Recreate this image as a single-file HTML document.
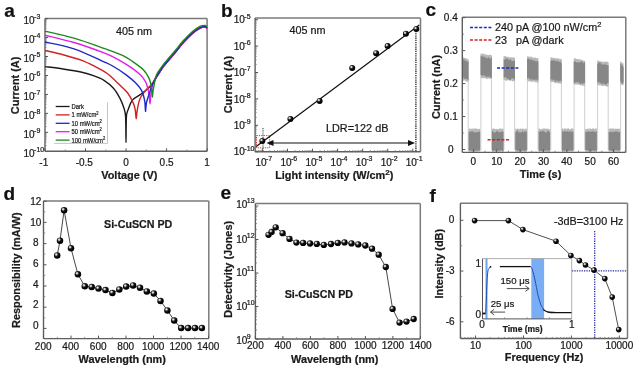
<!DOCTYPE html>
<html><head><meta charset="utf-8"><style>
html,body{margin:0;padding:0;background:#fff;}
svg{display:block;font-family:"Liberation Sans", sans-serif;will-change:transform;}
text{stroke:#1a1a1a;stroke-width:0.22px;}
</style></head><body>
<svg width="637" height="369" viewBox="0 0 637 369">
<defs>
<radialGradient id="ball" cx="0.36" cy="0.34" r="0.62">
<stop offset="0" stop-color="#f4f4f4"/>
<stop offset="0.18" stop-color="#c8c8c8"/>
<stop offset="0.42" stop-color="#262626"/>
<stop offset="0.7" stop-color="#050505"/>
<stop offset="1" stop-color="#000"/>
</radialGradient>
</defs>
<rect width="637" height="369" fill="#fff"/>
<text x="4.30" y="17.20" font-size="19" text-anchor="start" font-weight="bold" fill="#111" >a</text>
<line x1="45.00" y1="18.60" x2="207.10" y2="18.60" stroke="#7a7a7a" stroke-width="1.5" />
<line x1="207.10" y1="18.60" x2="207.10" y2="151.30" stroke="#7a7a7a" stroke-width="1.5" />
<line x1="45.00" y1="151.30" x2="207.10" y2="151.30" stroke="#5e5e5e" stroke-width="1.4" />
<line x1="45.00" y1="18.60" x2="45.00" y2="151.30" stroke="#5e5e5e" stroke-width="1.4" />
<line x1="45.00" y1="18.60" x2="48.00" y2="18.60" stroke="#555" stroke-width="1" />
<line x1="45.00" y1="31.85" x2="46.60" y2="31.85" stroke="#777" stroke-width="0.8" />
<line x1="45.00" y1="28.51" x2="46.60" y2="28.51" stroke="#777" stroke-width="0.8" />
<line x1="45.00" y1="26.14" x2="46.60" y2="26.14" stroke="#777" stroke-width="0.8" />
<line x1="45.00" y1="24.31" x2="46.60" y2="24.31" stroke="#777" stroke-width="0.8" />
<line x1="45.00" y1="22.81" x2="46.60" y2="22.81" stroke="#777" stroke-width="0.8" />
<line x1="45.00" y1="21.54" x2="46.60" y2="21.54" stroke="#777" stroke-width="0.8" />
<line x1="45.00" y1="20.44" x2="46.60" y2="20.44" stroke="#777" stroke-width="0.8" />
<line x1="45.00" y1="19.47" x2="46.60" y2="19.47" stroke="#777" stroke-width="0.8" />
<line x1="45.00" y1="37.56" x2="48.00" y2="37.56" stroke="#555" stroke-width="1" />
<line x1="45.00" y1="50.81" x2="46.60" y2="50.81" stroke="#777" stroke-width="0.8" />
<line x1="45.00" y1="47.47" x2="46.60" y2="47.47" stroke="#777" stroke-width="0.8" />
<line x1="45.00" y1="45.10" x2="46.60" y2="45.10" stroke="#777" stroke-width="0.8" />
<line x1="45.00" y1="43.26" x2="46.60" y2="43.26" stroke="#777" stroke-width="0.8" />
<line x1="45.00" y1="41.76" x2="46.60" y2="41.76" stroke="#777" stroke-width="0.8" />
<line x1="45.00" y1="40.49" x2="46.60" y2="40.49" stroke="#777" stroke-width="0.8" />
<line x1="45.00" y1="39.39" x2="46.60" y2="39.39" stroke="#777" stroke-width="0.8" />
<line x1="45.00" y1="38.42" x2="46.60" y2="38.42" stroke="#777" stroke-width="0.8" />
<line x1="45.00" y1="56.51" x2="48.00" y2="56.51" stroke="#555" stroke-width="1" />
<line x1="45.00" y1="69.76" x2="46.60" y2="69.76" stroke="#777" stroke-width="0.8" />
<line x1="45.00" y1="66.43" x2="46.60" y2="66.43" stroke="#777" stroke-width="0.8" />
<line x1="45.00" y1="64.06" x2="46.60" y2="64.06" stroke="#777" stroke-width="0.8" />
<line x1="45.00" y1="62.22" x2="46.60" y2="62.22" stroke="#777" stroke-width="0.8" />
<line x1="45.00" y1="60.72" x2="46.60" y2="60.72" stroke="#777" stroke-width="0.8" />
<line x1="45.00" y1="59.45" x2="46.60" y2="59.45" stroke="#777" stroke-width="0.8" />
<line x1="45.00" y1="58.35" x2="46.60" y2="58.35" stroke="#777" stroke-width="0.8" />
<line x1="45.00" y1="57.38" x2="46.60" y2="57.38" stroke="#777" stroke-width="0.8" />
<line x1="45.00" y1="75.47" x2="48.00" y2="75.47" stroke="#555" stroke-width="1" />
<line x1="45.00" y1="88.72" x2="46.60" y2="88.72" stroke="#777" stroke-width="0.8" />
<line x1="45.00" y1="85.38" x2="46.60" y2="85.38" stroke="#777" stroke-width="0.8" />
<line x1="45.00" y1="83.02" x2="46.60" y2="83.02" stroke="#777" stroke-width="0.8" />
<line x1="45.00" y1="81.18" x2="46.60" y2="81.18" stroke="#777" stroke-width="0.8" />
<line x1="45.00" y1="79.68" x2="46.60" y2="79.68" stroke="#777" stroke-width="0.8" />
<line x1="45.00" y1="78.41" x2="46.60" y2="78.41" stroke="#777" stroke-width="0.8" />
<line x1="45.00" y1="77.31" x2="46.60" y2="77.31" stroke="#777" stroke-width="0.8" />
<line x1="45.00" y1="76.34" x2="46.60" y2="76.34" stroke="#777" stroke-width="0.8" />
<line x1="45.00" y1="94.43" x2="48.00" y2="94.43" stroke="#555" stroke-width="1" />
<line x1="45.00" y1="107.68" x2="46.60" y2="107.68" stroke="#777" stroke-width="0.8" />
<line x1="45.00" y1="104.34" x2="46.60" y2="104.34" stroke="#777" stroke-width="0.8" />
<line x1="45.00" y1="101.97" x2="46.60" y2="101.97" stroke="#777" stroke-width="0.8" />
<line x1="45.00" y1="100.14" x2="46.60" y2="100.14" stroke="#777" stroke-width="0.8" />
<line x1="45.00" y1="98.63" x2="46.60" y2="98.63" stroke="#777" stroke-width="0.8" />
<line x1="45.00" y1="97.37" x2="46.60" y2="97.37" stroke="#777" stroke-width="0.8" />
<line x1="45.00" y1="96.27" x2="46.60" y2="96.27" stroke="#777" stroke-width="0.8" />
<line x1="45.00" y1="95.30" x2="46.60" y2="95.30" stroke="#777" stroke-width="0.8" />
<line x1="45.00" y1="113.39" x2="48.00" y2="113.39" stroke="#555" stroke-width="1" />
<line x1="45.00" y1="126.64" x2="46.60" y2="126.64" stroke="#777" stroke-width="0.8" />
<line x1="45.00" y1="123.30" x2="46.60" y2="123.30" stroke="#777" stroke-width="0.8" />
<line x1="45.00" y1="120.93" x2="46.60" y2="120.93" stroke="#777" stroke-width="0.8" />
<line x1="45.00" y1="119.09" x2="46.60" y2="119.09" stroke="#777" stroke-width="0.8" />
<line x1="45.00" y1="117.59" x2="46.60" y2="117.59" stroke="#777" stroke-width="0.8" />
<line x1="45.00" y1="116.32" x2="46.60" y2="116.32" stroke="#777" stroke-width="0.8" />
<line x1="45.00" y1="115.22" x2="46.60" y2="115.22" stroke="#777" stroke-width="0.8" />
<line x1="45.00" y1="114.25" x2="46.60" y2="114.25" stroke="#777" stroke-width="0.8" />
<line x1="45.00" y1="132.34" x2="48.00" y2="132.34" stroke="#555" stroke-width="1" />
<line x1="45.00" y1="145.59" x2="46.60" y2="145.59" stroke="#777" stroke-width="0.8" />
<line x1="45.00" y1="142.26" x2="46.60" y2="142.26" stroke="#777" stroke-width="0.8" />
<line x1="45.00" y1="139.89" x2="46.60" y2="139.89" stroke="#777" stroke-width="0.8" />
<line x1="45.00" y1="138.05" x2="46.60" y2="138.05" stroke="#777" stroke-width="0.8" />
<line x1="45.00" y1="136.55" x2="46.60" y2="136.55" stroke="#777" stroke-width="0.8" />
<line x1="45.00" y1="135.28" x2="46.60" y2="135.28" stroke="#777" stroke-width="0.8" />
<line x1="45.00" y1="134.18" x2="46.60" y2="134.18" stroke="#777" stroke-width="0.8" />
<line x1="45.00" y1="133.21" x2="46.60" y2="133.21" stroke="#777" stroke-width="0.8" />
<line x1="45.00" y1="151.30" x2="45.00" y2="148.30" stroke="#555" stroke-width="1" />
<line x1="85.53" y1="151.30" x2="85.53" y2="148.30" stroke="#555" stroke-width="1" />
<line x1="126.05" y1="151.30" x2="126.05" y2="148.30" stroke="#555" stroke-width="1" />
<line x1="166.57" y1="151.30" x2="166.57" y2="148.30" stroke="#555" stroke-width="1" />
<line x1="207.10" y1="151.30" x2="207.10" y2="148.30" stroke="#555" stroke-width="1" />
<line x1="65.26" y1="151.30" x2="65.26" y2="149.50" stroke="#777" stroke-width="0.8" />
<line x1="105.79" y1="151.30" x2="105.79" y2="149.50" stroke="#777" stroke-width="0.8" />
<line x1="146.31" y1="151.30" x2="146.31" y2="149.50" stroke="#777" stroke-width="0.8" />
<line x1="186.84" y1="151.30" x2="186.84" y2="149.50" stroke="#777" stroke-width="0.8" />
<text x="34.60" y="23.90" font-size="10" text-anchor="end" fill="#1a1a1a">10</text>
<text x="34.05" y="19.00" font-size="7" fill="#1a1a1a">-3</text>
<text x="34.60" y="42.86" font-size="10" text-anchor="end" fill="#1a1a1a">10</text>
<text x="34.05" y="37.96" font-size="7" fill="#1a1a1a">-4</text>
<text x="34.60" y="61.81" font-size="10" text-anchor="end" fill="#1a1a1a">10</text>
<text x="34.05" y="56.91" font-size="7" fill="#1a1a1a">-5</text>
<text x="34.60" y="80.77" font-size="10" text-anchor="end" fill="#1a1a1a">10</text>
<text x="34.05" y="75.87" font-size="7" fill="#1a1a1a">-6</text>
<text x="34.60" y="99.73" font-size="10" text-anchor="end" fill="#1a1a1a">10</text>
<text x="34.05" y="94.83" font-size="7" fill="#1a1a1a">-7</text>
<text x="34.60" y="118.69" font-size="10" text-anchor="end" fill="#1a1a1a">10</text>
<text x="34.05" y="113.79" font-size="7" fill="#1a1a1a">-8</text>
<text x="34.60" y="137.64" font-size="10" text-anchor="end" fill="#1a1a1a">10</text>
<text x="34.05" y="132.74" font-size="7" fill="#1a1a1a">-9</text>
<text x="34.60" y="156.60" font-size="10" text-anchor="end" fill="#1a1a1a">10</text>
<text x="34.05" y="151.70" font-size="7" fill="#1a1a1a">-10</text>
<text x="43.80" y="165.80" font-size="10" text-anchor="middle" font-weight="normal" fill="#1a1a1a" >-1</text>
<text x="84.33" y="165.80" font-size="10" text-anchor="middle" font-weight="normal" fill="#1a1a1a" >-0.5</text>
<text x="126.05" y="165.80" font-size="10" text-anchor="middle" font-weight="normal" fill="#1a1a1a" >0</text>
<text x="166.57" y="165.80" font-size="10" text-anchor="middle" font-weight="normal" fill="#1a1a1a" >0.5</text>
<text x="207.10" y="165.80" font-size="10" text-anchor="middle" font-weight="normal" fill="#1a1a1a" >1</text>
<text x="129.30" y="179.00" font-size="10.9" text-anchor="middle" font-weight="bold" fill="#1a1a1a" >Voltage (V)</text>
<text x="0" y="0" font-size="10.9" font-weight="bold" text-anchor="middle" fill="#1a1a1a" transform="translate(19.20,85.40) rotate(-90)">Current (A)</text>
<text x="116.00" y="34.60" font-size="10.8" text-anchor="start" font-weight="normal" fill="#1a1a1a" >405 nm</text>
<line x1="54.00" y1="143.40" x2="107.50" y2="143.40" stroke="#bdbdbd" stroke-width="0.9" />
<line x1="107.50" y1="102.50" x2="107.50" y2="143.40" stroke="#bdbdbd" stroke-width="0.9" />
<line x1="55.70" y1="106.50" x2="69.60" y2="106.50" stroke="#1a1a1a" stroke-width="1.3" />
<text x="0" y="0" font-size="6.7" fill="#1a1a1a" transform="translate(71.5,108.90) scale(0.88,1)">Dark</text>
<line x1="55.70" y1="114.90" x2="69.60" y2="114.90" stroke="#d42020" stroke-width="1.3" />
<text x="0" y="0" font-size="6.7" fill="#1a1a1a" transform="translate(71.5,117.30) scale(0.88,1)">1 mW/cm<tspan font-size="4.6" dy="-2.7">2</tspan></text>
<line x1="55.70" y1="123.30" x2="69.60" y2="123.30" stroke="#1c28c8" stroke-width="1.3" />
<text x="0" y="0" font-size="6.7" fill="#1a1a1a" transform="translate(71.5,125.70) scale(0.88,1)">10 mW/cm<tspan font-size="4.6" dy="-2.7">2</tspan></text>
<line x1="55.70" y1="131.70" x2="69.60" y2="131.70" stroke="#e020e8" stroke-width="1.3" />
<text x="0" y="0" font-size="6.7" fill="#1a1a1a" transform="translate(71.5,134.10) scale(0.88,1)">50 mW/cm<tspan font-size="4.6" dy="-2.7">2</tspan></text>
<line x1="55.70" y1="140.10" x2="69.60" y2="140.10" stroke="#1a8a1a" stroke-width="1.3" />
<text x="0" y="0" font-size="6.7" fill="#1a1a1a" transform="translate(71.5,142.50) scale(0.88,1)">100 mW/cm<tspan font-size="4.6" dy="-2.7">2</tspan></text>
<path d="M45.00,66.60 C48.00,67.00 56.85,68.05 63.00,69.00 C69.15,69.95 76.85,71.20 81.90,72.30 C86.95,73.40 89.62,74.27 93.30,75.60 C96.98,76.93 100.63,78.18 104.00,80.30 C107.37,82.42 110.82,85.23 113.50,88.30 C116.18,91.37 118.37,95.42 120.10,98.70 C121.83,101.98 122.98,104.95 123.90,108.00 C124.82,111.05 125.25,111.23 125.60,117.00 C125.95,122.77 125.87,142.60 126.00,142.60 C126.13,142.60 126.03,122.50 126.40,117.00 C126.77,111.50 127.20,112.42 128.20,109.60 C129.20,106.78 130.12,102.78 132.40,100.10 C134.68,97.42 138.73,95.95 141.90,93.50 C145.07,91.05 148.87,88.28 151.40,85.40 C153.93,82.52 155.05,79.40 157.10,76.20 C159.15,73.00 161.82,68.82 163.70,66.20 C165.58,63.58 166.27,63.03 168.40,60.50 C170.53,57.97 174.03,53.97 176.50,51.00 C178.97,48.03 180.50,45.67 183.20,42.70 C185.90,39.73 189.87,35.65 192.70,33.20 C195.53,30.75 198.15,29.02 200.20,28.00 C202.25,26.98 203.87,27.05 205.00,27.10 C206.13,27.15 206.67,28.10 207.00,28.30" stroke="#1a1a1a" stroke-width="1.4" fill="none" stroke-linejoin="round" />
<path d="M45.00,50.50 C48.00,51.20 56.85,53.05 63.00,54.70 C69.15,56.35 76.38,58.33 81.90,60.40 C87.42,62.47 92.42,65.28 96.10,67.10 C99.78,68.92 101.82,69.98 104.00,71.30 C106.18,72.62 106.83,72.97 109.20,75.00 C111.57,77.03 115.12,80.50 118.20,83.50 C121.28,86.50 125.17,89.68 127.70,93.00 C130.23,96.32 132.13,100.48 133.40,103.40 C134.67,106.32 134.83,107.92 135.30,110.50 C135.77,113.08 135.88,118.90 136.20,118.90 C136.52,118.90 136.57,113.87 137.20,110.50 C137.83,107.13 138.42,102.25 140.00,98.70 C141.58,95.15 144.80,91.55 146.70,89.20 C148.60,86.85 149.67,86.77 151.40,84.60 C153.13,82.43 155.05,79.27 157.10,76.20 C159.15,73.13 161.82,68.82 163.70,66.20 C165.58,63.58 166.27,63.03 168.40,60.50 C170.53,57.97 174.03,53.97 176.50,51.00 C178.97,48.03 180.50,45.67 183.20,42.70 C185.90,39.73 189.87,35.65 192.70,33.20 C195.53,30.75 198.15,29.02 200.20,28.00 C202.25,26.98 203.87,27.05 205.00,27.10 C206.13,27.15 206.67,28.10 207.00,28.30" stroke="#d42020" stroke-width="1.4" fill="none" stroke-linejoin="round" />
<path d="M45.00,35.20 C49.83,36.42 64.17,39.57 74.00,42.50 C83.83,45.43 97.42,50.37 104.00,52.80 C110.58,55.23 110.33,55.52 113.50,57.10 C116.67,58.68 119.85,60.42 123.00,62.30 C126.15,64.18 129.57,66.35 132.40,68.40 C135.23,70.45 137.95,72.62 140.00,74.60 C142.05,76.58 143.58,78.65 144.70,80.30 C145.82,81.95 145.98,82.22 146.70,84.50 C147.42,86.78 148.45,90.77 149.00,94.00 C149.55,97.23 149.68,103.90 150.00,103.90 C150.32,103.90 150.35,97.55 150.90,94.00 C151.45,90.45 152.45,85.43 153.30,82.60 C154.15,79.77 155.37,78.08 156.00,77.00 C156.63,75.92 155.82,77.92 157.10,76.10 C158.38,74.28 161.82,68.72 163.70,66.10 C165.58,63.48 166.27,62.93 168.40,60.40 C170.53,57.87 174.03,53.87 176.50,50.90 C178.97,47.93 180.50,45.57 183.20,42.60 C185.90,39.63 189.87,35.55 192.70,33.10 C195.53,30.65 198.15,28.92 200.20,27.90 C202.25,26.88 203.87,26.95 205.00,27.00 C206.13,27.05 206.67,28.00 207.00,28.20" stroke="#e020e8" stroke-width="1.4" fill="none" stroke-linejoin="round" />
<path d="M45.00,42.00 C49.83,43.13 64.17,45.50 74.00,48.80 C83.83,52.10 97.42,58.85 104.00,61.80 C110.58,64.75 109.87,64.37 113.50,66.50 C117.13,68.63 122.17,71.92 125.80,74.60 C129.43,77.28 132.62,79.85 135.30,82.60 C137.98,85.35 140.32,87.95 141.90,91.10 C143.48,94.25 144.20,98.13 144.80,101.50 C145.40,104.87 145.22,111.13 145.50,111.30 C145.78,111.47 145.83,105.55 146.50,102.50 C147.17,99.45 148.68,95.62 149.50,93.00 C150.32,90.38 150.48,89.05 151.40,86.80 C152.32,84.55 154.05,81.36 155.00,79.50 C155.95,77.64 155.65,77.96 157.10,75.65 C158.55,73.34 161.82,68.27 163.70,65.65 C165.58,63.03 166.27,62.48 168.40,59.95 C170.53,57.42 174.03,53.42 176.50,50.45 C178.97,47.48 180.50,45.12 183.20,42.15 C185.90,39.18 189.87,35.10 192.70,32.65 C195.53,30.20 198.15,28.47 200.20,27.45 C202.25,26.43 203.87,26.50 205.00,26.55 C206.13,26.60 206.67,27.55 207.00,27.75" stroke="#1c28c8" stroke-width="1.4" fill="none" stroke-linejoin="round" />
<path d="M45.00,31.10 C49.83,32.28 64.17,35.32 74.00,38.20 C83.83,41.08 95.83,45.50 104.00,48.40 C112.17,51.30 118.27,53.45 123.00,55.60 C127.73,57.75 129.25,59.17 132.40,61.30 C135.55,63.43 139.68,66.50 141.90,68.40 C144.12,70.30 144.43,70.87 145.70,72.70 C146.97,74.53 148.63,77.42 149.50,79.40 C150.37,81.38 150.52,82.83 150.90,84.60 C151.28,86.37 151.57,87.88 151.80,90.00 C152.03,92.12 152.07,97.30 152.30,97.30 C152.53,97.30 152.88,92.12 153.20,90.00 C153.52,87.88 153.63,87.17 154.20,84.60 C154.77,82.03 155.07,77.95 156.60,74.60 C158.13,71.25 161.47,67.13 163.40,64.50 C165.33,61.87 166.05,61.33 168.20,58.80 C170.35,56.27 173.83,52.27 176.30,49.30 C178.77,46.33 180.30,43.97 183.00,41.00 C185.70,38.03 189.67,33.95 192.50,31.50 C195.33,29.05 197.92,27.32 200.00,26.30 C202.08,25.28 203.83,25.35 205.00,25.40 C206.17,25.45 206.67,26.40 207.00,26.60" stroke="#1a8a1a" stroke-width="1.4" fill="none" stroke-linejoin="round" />
<text x="221.00" y="17.30" font-size="19" text-anchor="start" font-weight="bold" fill="#111" >b</text>
<line x1="255.10" y1="18.10" x2="420.50" y2="18.10" stroke="#7a7a7a" stroke-width="1.5" />
<line x1="420.50" y1="18.10" x2="420.50" y2="151.70" stroke="#7a7a7a" stroke-width="1.5" />
<line x1="255.10" y1="151.70" x2="420.50" y2="151.70" stroke="#5e5e5e" stroke-width="1.4" />
<line x1="255.10" y1="18.10" x2="255.10" y2="151.70" stroke="#5e5e5e" stroke-width="1.4" />
<line x1="255.10" y1="151.70" x2="258.10" y2="151.70" stroke="#555" stroke-width="1" />
<line x1="255.10" y1="143.75" x2="256.70" y2="143.75" stroke="#777" stroke-width="0.8" />
<line x1="255.10" y1="139.10" x2="256.70" y2="139.10" stroke="#777" stroke-width="0.8" />
<line x1="255.10" y1="135.81" x2="256.70" y2="135.81" stroke="#777" stroke-width="0.8" />
<line x1="255.10" y1="133.25" x2="256.70" y2="133.25" stroke="#777" stroke-width="0.8" />
<line x1="255.10" y1="131.16" x2="256.70" y2="131.16" stroke="#777" stroke-width="0.8" />
<line x1="255.10" y1="129.39" x2="256.70" y2="129.39" stroke="#777" stroke-width="0.8" />
<line x1="255.10" y1="127.86" x2="256.70" y2="127.86" stroke="#777" stroke-width="0.8" />
<line x1="255.10" y1="126.51" x2="256.70" y2="126.51" stroke="#777" stroke-width="0.8" />
<line x1="255.10" y1="125.30" x2="258.10" y2="125.30" stroke="#555" stroke-width="1" />
<line x1="255.10" y1="117.35" x2="256.70" y2="117.35" stroke="#777" stroke-width="0.8" />
<line x1="255.10" y1="112.70" x2="256.70" y2="112.70" stroke="#777" stroke-width="0.8" />
<line x1="255.10" y1="109.41" x2="256.70" y2="109.41" stroke="#777" stroke-width="0.8" />
<line x1="255.10" y1="106.85" x2="256.70" y2="106.85" stroke="#777" stroke-width="0.8" />
<line x1="255.10" y1="104.76" x2="256.70" y2="104.76" stroke="#777" stroke-width="0.8" />
<line x1="255.10" y1="102.99" x2="256.70" y2="102.99" stroke="#777" stroke-width="0.8" />
<line x1="255.10" y1="101.46" x2="256.70" y2="101.46" stroke="#777" stroke-width="0.8" />
<line x1="255.10" y1="100.11" x2="256.70" y2="100.11" stroke="#777" stroke-width="0.8" />
<line x1="255.10" y1="98.90" x2="258.10" y2="98.90" stroke="#555" stroke-width="1" />
<line x1="255.10" y1="90.95" x2="256.70" y2="90.95" stroke="#777" stroke-width="0.8" />
<line x1="255.10" y1="86.30" x2="256.70" y2="86.30" stroke="#777" stroke-width="0.8" />
<line x1="255.10" y1="83.01" x2="256.70" y2="83.01" stroke="#777" stroke-width="0.8" />
<line x1="255.10" y1="80.45" x2="256.70" y2="80.45" stroke="#777" stroke-width="0.8" />
<line x1="255.10" y1="78.36" x2="256.70" y2="78.36" stroke="#777" stroke-width="0.8" />
<line x1="255.10" y1="76.59" x2="256.70" y2="76.59" stroke="#777" stroke-width="0.8" />
<line x1="255.10" y1="75.06" x2="256.70" y2="75.06" stroke="#777" stroke-width="0.8" />
<line x1="255.10" y1="73.71" x2="256.70" y2="73.71" stroke="#777" stroke-width="0.8" />
<line x1="255.10" y1="72.50" x2="258.10" y2="72.50" stroke="#555" stroke-width="1" />
<line x1="255.10" y1="64.55" x2="256.70" y2="64.55" stroke="#777" stroke-width="0.8" />
<line x1="255.10" y1="59.90" x2="256.70" y2="59.90" stroke="#777" stroke-width="0.8" />
<line x1="255.10" y1="56.61" x2="256.70" y2="56.61" stroke="#777" stroke-width="0.8" />
<line x1="255.10" y1="54.05" x2="256.70" y2="54.05" stroke="#777" stroke-width="0.8" />
<line x1="255.10" y1="51.96" x2="256.70" y2="51.96" stroke="#777" stroke-width="0.8" />
<line x1="255.10" y1="50.19" x2="256.70" y2="50.19" stroke="#777" stroke-width="0.8" />
<line x1="255.10" y1="48.66" x2="256.70" y2="48.66" stroke="#777" stroke-width="0.8" />
<line x1="255.10" y1="47.31" x2="256.70" y2="47.31" stroke="#777" stroke-width="0.8" />
<line x1="255.10" y1="46.10" x2="258.10" y2="46.10" stroke="#555" stroke-width="1" />
<line x1="255.10" y1="38.15" x2="256.70" y2="38.15" stroke="#777" stroke-width="0.8" />
<line x1="255.10" y1="33.50" x2="256.70" y2="33.50" stroke="#777" stroke-width="0.8" />
<line x1="255.10" y1="30.21" x2="256.70" y2="30.21" stroke="#777" stroke-width="0.8" />
<line x1="255.10" y1="27.65" x2="256.70" y2="27.65" stroke="#777" stroke-width="0.8" />
<line x1="255.10" y1="25.56" x2="256.70" y2="25.56" stroke="#777" stroke-width="0.8" />
<line x1="255.10" y1="23.79" x2="256.70" y2="23.79" stroke="#777" stroke-width="0.8" />
<line x1="255.10" y1="22.26" x2="256.70" y2="22.26" stroke="#777" stroke-width="0.8" />
<line x1="255.10" y1="20.91" x2="256.70" y2="20.91" stroke="#777" stroke-width="0.8" />
<line x1="255.10" y1="19.70" x2="258.10" y2="19.70" stroke="#555" stroke-width="1" />
<line x1="262.40" y1="151.70" x2="262.40" y2="148.70" stroke="#555" stroke-width="1" />
<line x1="269.95" y1="151.70" x2="269.95" y2="150.10" stroke="#777" stroke-width="0.8" />
<line x1="274.36" y1="151.70" x2="274.36" y2="150.10" stroke="#777" stroke-width="0.8" />
<line x1="277.49" y1="151.70" x2="277.49" y2="150.10" stroke="#777" stroke-width="0.8" />
<line x1="279.92" y1="151.70" x2="279.92" y2="150.10" stroke="#777" stroke-width="0.8" />
<line x1="281.91" y1="151.70" x2="281.91" y2="150.10" stroke="#777" stroke-width="0.8" />
<line x1="283.59" y1="151.70" x2="283.59" y2="150.10" stroke="#777" stroke-width="0.8" />
<line x1="285.04" y1="151.70" x2="285.04" y2="150.10" stroke="#777" stroke-width="0.8" />
<line x1="286.32" y1="151.70" x2="286.32" y2="150.10" stroke="#777" stroke-width="0.8" />
<line x1="287.47" y1="151.70" x2="287.47" y2="148.70" stroke="#555" stroke-width="1" />
<line x1="295.02" y1="151.70" x2="295.02" y2="150.10" stroke="#777" stroke-width="0.8" />
<line x1="299.43" y1="151.70" x2="299.43" y2="150.10" stroke="#777" stroke-width="0.8" />
<line x1="302.56" y1="151.70" x2="302.56" y2="150.10" stroke="#777" stroke-width="0.8" />
<line x1="304.99" y1="151.70" x2="304.99" y2="150.10" stroke="#777" stroke-width="0.8" />
<line x1="306.98" y1="151.70" x2="306.98" y2="150.10" stroke="#777" stroke-width="0.8" />
<line x1="308.66" y1="151.70" x2="308.66" y2="150.10" stroke="#777" stroke-width="0.8" />
<line x1="310.11" y1="151.70" x2="310.11" y2="150.10" stroke="#777" stroke-width="0.8" />
<line x1="311.39" y1="151.70" x2="311.39" y2="150.10" stroke="#777" stroke-width="0.8" />
<line x1="312.54" y1="151.70" x2="312.54" y2="148.70" stroke="#555" stroke-width="1" />
<line x1="320.09" y1="151.70" x2="320.09" y2="150.10" stroke="#777" stroke-width="0.8" />
<line x1="324.50" y1="151.70" x2="324.50" y2="150.10" stroke="#777" stroke-width="0.8" />
<line x1="327.63" y1="151.70" x2="327.63" y2="150.10" stroke="#777" stroke-width="0.8" />
<line x1="330.06" y1="151.70" x2="330.06" y2="150.10" stroke="#777" stroke-width="0.8" />
<line x1="332.05" y1="151.70" x2="332.05" y2="150.10" stroke="#777" stroke-width="0.8" />
<line x1="333.73" y1="151.70" x2="333.73" y2="150.10" stroke="#777" stroke-width="0.8" />
<line x1="335.18" y1="151.70" x2="335.18" y2="150.10" stroke="#777" stroke-width="0.8" />
<line x1="336.46" y1="151.70" x2="336.46" y2="150.10" stroke="#777" stroke-width="0.8" />
<line x1="337.61" y1="151.70" x2="337.61" y2="148.70" stroke="#555" stroke-width="1" />
<line x1="345.16" y1="151.70" x2="345.16" y2="150.10" stroke="#777" stroke-width="0.8" />
<line x1="349.57" y1="151.70" x2="349.57" y2="150.10" stroke="#777" stroke-width="0.8" />
<line x1="352.70" y1="151.70" x2="352.70" y2="150.10" stroke="#777" stroke-width="0.8" />
<line x1="355.13" y1="151.70" x2="355.13" y2="150.10" stroke="#777" stroke-width="0.8" />
<line x1="357.12" y1="151.70" x2="357.12" y2="150.10" stroke="#777" stroke-width="0.8" />
<line x1="358.80" y1="151.70" x2="358.80" y2="150.10" stroke="#777" stroke-width="0.8" />
<line x1="360.25" y1="151.70" x2="360.25" y2="150.10" stroke="#777" stroke-width="0.8" />
<line x1="361.53" y1="151.70" x2="361.53" y2="150.10" stroke="#777" stroke-width="0.8" />
<line x1="362.68" y1="151.70" x2="362.68" y2="148.70" stroke="#555" stroke-width="1" />
<line x1="370.23" y1="151.70" x2="370.23" y2="150.10" stroke="#777" stroke-width="0.8" />
<line x1="374.64" y1="151.70" x2="374.64" y2="150.10" stroke="#777" stroke-width="0.8" />
<line x1="377.77" y1="151.70" x2="377.77" y2="150.10" stroke="#777" stroke-width="0.8" />
<line x1="380.20" y1="151.70" x2="380.20" y2="150.10" stroke="#777" stroke-width="0.8" />
<line x1="382.19" y1="151.70" x2="382.19" y2="150.10" stroke="#777" stroke-width="0.8" />
<line x1="383.87" y1="151.70" x2="383.87" y2="150.10" stroke="#777" stroke-width="0.8" />
<line x1="385.32" y1="151.70" x2="385.32" y2="150.10" stroke="#777" stroke-width="0.8" />
<line x1="386.60" y1="151.70" x2="386.60" y2="150.10" stroke="#777" stroke-width="0.8" />
<line x1="387.75" y1="151.70" x2="387.75" y2="148.70" stroke="#555" stroke-width="1" />
<line x1="395.30" y1="151.70" x2="395.30" y2="150.10" stroke="#777" stroke-width="0.8" />
<line x1="399.71" y1="151.70" x2="399.71" y2="150.10" stroke="#777" stroke-width="0.8" />
<line x1="402.84" y1="151.70" x2="402.84" y2="150.10" stroke="#777" stroke-width="0.8" />
<line x1="405.27" y1="151.70" x2="405.27" y2="150.10" stroke="#777" stroke-width="0.8" />
<line x1="407.26" y1="151.70" x2="407.26" y2="150.10" stroke="#777" stroke-width="0.8" />
<line x1="408.94" y1="151.70" x2="408.94" y2="150.10" stroke="#777" stroke-width="0.8" />
<line x1="410.39" y1="151.70" x2="410.39" y2="150.10" stroke="#777" stroke-width="0.8" />
<line x1="411.67" y1="151.70" x2="411.67" y2="150.10" stroke="#777" stroke-width="0.8" />
<line x1="412.82" y1="151.70" x2="412.82" y2="148.70" stroke="#555" stroke-width="1" />
<line x1="420.37" y1="151.70" x2="420.37" y2="150.10" stroke="#777" stroke-width="0.8" />
<line x1="256.84" y1="151.70" x2="256.84" y2="150.10" stroke="#777" stroke-width="0.8" />
<line x1="258.52" y1="151.70" x2="258.52" y2="150.10" stroke="#777" stroke-width="0.8" />
<line x1="259.97" y1="151.70" x2="259.97" y2="150.10" stroke="#777" stroke-width="0.8" />
<line x1="261.25" y1="151.70" x2="261.25" y2="150.10" stroke="#777" stroke-width="0.8" />
<text x="244.90" y="155.40" font-size="10" text-anchor="end" fill="#1a1a1a">10</text>
<text x="244.35" y="150.50" font-size="7" fill="#1a1a1a">-10</text>
<text x="244.90" y="129.00" font-size="10" text-anchor="end" fill="#1a1a1a">10</text>
<text x="244.35" y="124.10" font-size="7" fill="#1a1a1a">-9</text>
<text x="244.90" y="102.60" font-size="10" text-anchor="end" fill="#1a1a1a">10</text>
<text x="244.35" y="97.70" font-size="7" fill="#1a1a1a">-8</text>
<text x="244.90" y="76.20" font-size="10" text-anchor="end" fill="#1a1a1a">10</text>
<text x="244.35" y="71.30" font-size="7" fill="#1a1a1a">-7</text>
<text x="244.90" y="49.80" font-size="10" text-anchor="end" fill="#1a1a1a">10</text>
<text x="244.35" y="44.90" font-size="7" fill="#1a1a1a">-6</text>
<text x="244.90" y="23.40" font-size="10" text-anchor="end" fill="#1a1a1a">10</text>
<text x="244.35" y="18.50" font-size="7" fill="#1a1a1a">-5</text>
<text x="266.50" y="166.20" font-size="10" text-anchor="end" fill="#1a1a1a">10</text>
<text x="265.95" y="161.30" font-size="7" fill="#1a1a1a">-7</text>
<text x="291.57" y="166.20" font-size="10" text-anchor="end" fill="#1a1a1a">10</text>
<text x="291.02" y="161.30" font-size="7" fill="#1a1a1a">-6</text>
<text x="316.64" y="166.20" font-size="10" text-anchor="end" fill="#1a1a1a">10</text>
<text x="316.09" y="161.30" font-size="7" fill="#1a1a1a">-5</text>
<text x="341.71" y="166.20" font-size="10" text-anchor="end" fill="#1a1a1a">10</text>
<text x="341.16" y="161.30" font-size="7" fill="#1a1a1a">-4</text>
<text x="366.78" y="166.20" font-size="10" text-anchor="end" fill="#1a1a1a">10</text>
<text x="366.23" y="161.30" font-size="7" fill="#1a1a1a">-3</text>
<text x="391.85" y="166.20" font-size="10" text-anchor="end" fill="#1a1a1a">10</text>
<text x="391.30" y="161.30" font-size="7" fill="#1a1a1a">-2</text>
<text x="416.92" y="166.20" font-size="10" text-anchor="end" fill="#1a1a1a">10</text>
<text x="416.37" y="161.30" font-size="7" fill="#1a1a1a">-1</text>
<text x="334.3" y="178.8" font-size="10.9" font-weight="bold" text-anchor="middle" fill="#1a1a1a">Light intensity (W/cm<tspan font-size="8" dy="-4.3">2</tspan><tspan dy="4.3">)</tspan></text>
<text x="0" y="0" font-size="10.9" font-weight="bold" text-anchor="middle" fill="#1a1a1a" transform="translate(231.50,84.60) rotate(-90)">Current (A)</text>
<text x="289.50" y="33.80" font-size="10.8" text-anchor="start" font-weight="normal" fill="#1a1a1a" >405 nm</text>
<text x="326.00" y="132.10" font-size="10.85" text-anchor="start" font-weight="normal" fill="#1a1a1a" >LDR=122 dB</text>
<rect x="256.50" y="135.60" width="13.10" height="12.20" stroke="#d03030" stroke-width="1" fill="none" stroke-dasharray="1.2,1.2"/>
<line x1="263.00" y1="128.00" x2="263.00" y2="151.70" stroke="#555" stroke-width="1.2" stroke-dasharray="1.2,1"/>
<line x1="415.90" y1="31.00" x2="415.90" y2="151.70" stroke="#333" stroke-width="1.4" stroke-dasharray="1.3,0.9"/>
<line x1="256.20" y1="146.60" x2="419.30" y2="25.10" stroke="#111" stroke-width="1.2" />
<line x1="270.00" y1="143.00" x2="412.00" y2="143.00" stroke="#111" stroke-width="1.1" />
<path d="M266.5,143 L273.5,140 L273.5,146 Z" fill="#111"/>
<path d="M415,143 L408,140 L408,146 Z" fill="#111"/>
<circle cx="262.30" cy="141.00" r="3" fill="url(#ball)"/>
<circle cx="290.40" cy="119.00" r="3" fill="url(#ball)"/>
<circle cx="319.60" cy="101.00" r="3" fill="url(#ball)"/>
<circle cx="352.20" cy="68.00" r="3" fill="url(#ball)"/>
<circle cx="376.10" cy="53.20" r="3" fill="url(#ball)"/>
<circle cx="387.60" cy="46.10" r="3" fill="url(#ball)"/>
<circle cx="405.90" cy="33.70" r="3" fill="url(#ball)"/>
<circle cx="416.30" cy="29.00" r="3" fill="url(#ball)"/>
<text x="425.50" y="16.00" font-size="19" text-anchor="start" font-weight="bold" fill="#111" >c</text>
<text x="450.80" y="153.20" font-size="10" text-anchor="middle" font-weight="normal" fill="#1a1a1a" >0</text>
<text x="450.80" y="120.25" font-size="10" text-anchor="middle" font-weight="normal" fill="#1a1a1a" >0.1</text>
<text x="450.80" y="87.30" font-size="10" text-anchor="middle" font-weight="normal" fill="#1a1a1a" >0.2</text>
<text x="450.80" y="54.35" font-size="10" text-anchor="middle" font-weight="normal" fill="#1a1a1a" >0.3</text>
<text x="450.80" y="21.40" font-size="10" text-anchor="middle" font-weight="normal" fill="#1a1a1a" >0.4</text>
<text x="473.40" y="164.60" font-size="10" text-anchor="middle" font-weight="normal" fill="#1a1a1a" >0</text>
<text x="496.75" y="164.60" font-size="10" text-anchor="middle" font-weight="normal" fill="#1a1a1a" >10</text>
<text x="520.10" y="164.60" font-size="10" text-anchor="middle" font-weight="normal" fill="#1a1a1a" >20</text>
<text x="543.45" y="164.60" font-size="10" text-anchor="middle" font-weight="normal" fill="#1a1a1a" >30</text>
<text x="566.80" y="164.60" font-size="10" text-anchor="middle" font-weight="normal" fill="#1a1a1a" >40</text>
<text x="590.15" y="164.60" font-size="10" text-anchor="middle" font-weight="normal" fill="#1a1a1a" >50</text>
<text x="613.50" y="164.60" font-size="10" text-anchor="middle" font-weight="normal" fill="#1a1a1a" >60</text>
<text x="540.50" y="178.00" font-size="10.9" text-anchor="middle" font-weight="bold" fill="#1a1a1a" >Time (s)</text>
<text x="0" y="0" font-size="10.9" font-weight="bold" text-anchor="middle" fill="#1a1a1a" transform="translate(440.30,87.00) rotate(-90)">Current (nA)</text>
<line x1="468.20" y1="78.80" x2="468.20" y2="150.00" stroke="#cacaca" stroke-width="0.9" />
<path d="M462.30,57.11 L462.93,57.52 L463.56,57.12 L464.19,58.01 L464.82,57.66 L465.45,58.06 L466.08,58.63 L466.71,58.29 L467.34,59.06 L467.97,58.78 L468.60,59.42 L468.60,81.16 L467.97,82.12 L467.34,81.28 L466.71,81.34 L466.08,81.64 L465.45,81.10 L464.82,80.47 L464.19,80.20 L463.56,80.89 L462.93,80.26 L462.30,79.71Z" fill="#b9b9b9"/>
<path d="M462.30,60.56 L462.93,59.40 L463.56,59.25 L464.19,59.38 L464.82,60.04 L465.45,61.46 L466.08,60.13 L466.71,61.30 L467.34,61.63 L467.97,61.19 L468.60,61.81 L468.60,80.08 L467.97,80.16 L467.34,78.82 L466.71,79.04 L466.08,79.21 L465.45,78.40 L464.82,78.53 L464.19,78.98 L463.56,77.69 L462.93,77.19 L462.30,77.05Z" fill="#878787"/>
<line x1="480.90" y1="76.20" x2="480.90" y2="150.00" stroke="#cacaca" stroke-width="0.9" />
<line x1="491.50" y1="76.20" x2="491.50" y2="150.00" stroke="#cacaca" stroke-width="0.9" />
<path d="M480.50,53.81 L481.13,53.52 L481.77,53.69 L482.40,53.38 L483.03,53.67 L483.67,54.31 L484.30,53.59 L484.93,54.74 L485.57,54.49 L486.20,54.19 L486.83,55.03 L487.47,54.74 L488.10,55.39 L488.73,54.74 L489.37,54.74 L490.00,55.08 L490.63,54.83 L491.27,55.61 L491.90,55.27 L491.90,78.64 L491.27,78.62 L490.63,78.89 L490.00,78.28 L489.37,78.97 L488.73,78.55 L488.10,78.34 L487.47,78.90 L486.83,79.03 L486.20,78.53 L485.57,78.51 L484.93,77.66 L484.30,78.30 L483.67,77.99 L483.03,78.47 L482.40,78.26 L481.77,77.71 L481.13,77.78 L480.50,77.71Z" fill="#b9b9b9"/>
<path d="M480.50,55.24 L481.13,57.05 L481.77,55.63 L482.40,56.03 L483.03,56.48 L483.67,57.75 L484.30,55.96 L484.93,56.96 L485.57,57.31 L486.20,58.22 L486.83,58.18 L487.47,58.40 L488.10,57.10 L488.73,57.54 L489.37,57.52 L490.00,58.89 L490.63,59.18 L491.27,57.35 L491.90,57.52 L491.90,77.71 L491.27,77.82 L490.63,77.51 L490.00,77.71 L489.37,75.60 L488.73,77.01 L488.10,76.78 L487.47,76.45 L486.83,76.79 L486.20,77.34 L485.57,76.33 L484.93,75.77 L484.30,75.81 L483.67,74.73 L483.03,75.26 L482.40,75.96 L481.77,75.63 L481.13,74.94 L480.50,74.86Z" fill="#878787"/>
<line x1="504.00" y1="78.60" x2="504.00" y2="150.00" stroke="#cacaca" stroke-width="0.9" />
<line x1="514.60" y1="78.60" x2="514.60" y2="150.00" stroke="#cacaca" stroke-width="0.9" />
<path d="M503.60,55.83 L504.23,55.93 L504.87,56.40 L505.50,55.87 L506.13,56.67 L506.77,56.77 L507.40,56.72 L508.03,56.88 L508.67,56.78 L509.30,57.24 L509.93,57.41 L510.57,57.34 L511.20,57.51 L511.83,57.31 L512.47,57.82 L513.10,56.92 L513.73,57.34 L514.37,58.01 L515.00,58.00 L515.00,80.93 L514.37,81.47 L513.73,80.91 L513.10,81.28 L512.47,81.71 L511.83,80.51 L511.20,80.59 L510.57,81.31 L509.93,80.55 L509.30,80.56 L508.67,80.19 L508.03,80.09 L507.40,80.48 L506.77,80.38 L506.13,80.93 L505.50,80.67 L504.87,79.71 L504.23,79.92 L503.60,79.82Z" fill="#b9b9b9"/>
<path d="M503.60,58.57 L504.23,59.76 L504.87,59.59 L505.50,59.30 L506.13,58.37 L506.77,58.74 L507.40,58.37 L508.03,59.93 L508.67,59.47 L509.30,60.17 L509.93,59.20 L510.57,59.06 L511.20,60.58 L511.83,61.11 L512.47,60.90 L513.10,60.90 L513.73,61.04 L514.37,60.96 L515.00,59.84 L515.00,80.36 L514.37,79.61 L513.73,78.52 L513.10,78.42 L512.47,78.41 L511.83,78.31 L511.20,78.58 L510.57,79.91 L509.93,79.90 L509.30,79.70 L508.67,78.44 L508.03,79.58 L507.40,78.86 L506.77,77.74 L506.13,77.70 L505.50,77.02 L504.87,76.94 L504.23,77.64 L503.60,77.94Z" fill="#878787"/>
<line x1="527.40" y1="79.50" x2="527.40" y2="150.00" stroke="#cacaca" stroke-width="0.9" />
<line x1="538.00" y1="79.50" x2="538.00" y2="150.00" stroke="#cacaca" stroke-width="0.9" />
<path d="M527.00,55.99 L527.63,56.54 L528.27,56.44 L528.90,56.37 L529.53,57.34 L530.17,56.76 L530.80,56.57 L531.43,56.84 L532.07,56.99 L532.70,57.43 L533.33,57.90 L533.97,57.28 L534.60,57.93 L535.23,57.48 L535.87,57.39 L536.50,58.19 L537.13,58.30 L537.77,57.75 L538.40,58.13 L538.40,82.85 L537.77,82.24 L537.13,82.75 L536.50,82.18 L535.87,82.25 L535.23,82.55 L534.60,81.32 L533.97,81.37 L533.33,81.79 L532.70,81.47 L532.07,81.76 L531.43,82.06 L530.80,81.79 L530.17,80.89 L529.53,81.60 L528.90,81.64 L528.27,80.65 L527.63,80.54 L527.00,80.50Z" fill="#b9b9b9"/>
<path d="M527.00,59.98 L527.63,58.62 L528.27,58.83 L528.90,59.04 L529.53,59.02 L530.17,59.96 L530.80,59.29 L531.43,59.78 L532.07,59.20 L532.70,61.18 L533.33,59.96 L533.97,60.32 L534.60,60.73 L535.23,61.61 L535.87,60.57 L536.50,61.87 L537.13,60.98 L537.77,61.17 L538.40,61.26 L538.40,80.32 L537.77,80.87 L537.13,79.60 L536.50,79.45 L535.87,80.11 L535.23,78.94 L534.60,80.48 L533.97,79.85 L533.33,79.68 L532.70,79.13 L532.07,79.60 L531.43,79.92 L530.80,79.24 L530.17,78.43 L529.53,79.85 L528.90,77.86 L528.27,78.21 L527.63,78.74 L527.00,77.64Z" fill="#878787"/>
<line x1="550.80" y1="80.70" x2="550.80" y2="150.00" stroke="#cacaca" stroke-width="0.9" />
<line x1="561.40" y1="80.70" x2="561.40" y2="150.00" stroke="#cacaca" stroke-width="0.9" />
<path d="M550.40,57.33 L551.03,57.20 L551.67,57.13 L552.30,57.80 L552.93,57.71 L553.57,57.95 L554.20,58.05 L554.83,57.95 L555.47,58.35 L556.10,58.36 L556.73,58.54 L557.37,58.09 L558.00,58.49 L558.63,58.39 L559.27,58.42 L559.90,59.36 L560.53,59.11 L561.17,58.76 L561.80,58.99 L561.80,83.58 L561.17,83.39 L560.53,83.98 L559.90,83.01 L559.27,83.83 L558.63,83.64 L558.00,82.67 L557.37,83.21 L556.73,83.19 L556.10,82.44 L555.47,83.24 L554.83,83.02 L554.20,82.80 L553.57,82.00 L552.93,82.12 L552.30,81.84 L551.67,82.20 L551.03,81.73 L550.40,81.66Z" fill="#b9b9b9"/>
<path d="M550.40,61.38 L551.03,61.11 L551.67,59.61 L552.30,60.37 L552.93,60.68 L553.57,60.37 L554.20,60.14 L554.83,60.54 L555.47,61.62 L556.10,60.05 L556.73,61.44 L557.37,61.28 L558.00,60.38 L558.63,61.24 L559.27,62.05 L559.90,61.90 L560.53,60.93 L561.17,63.25 L561.80,62.89 L561.80,81.32 L561.17,81.87 L560.53,80.27 L559.90,80.26 L559.27,81.65 L558.63,81.25 L558.00,82.01 L557.37,80.08 L556.73,80.25 L556.10,81.52 L555.47,81.65 L554.83,80.40 L554.20,79.61 L553.57,79.87 L552.93,81.00 L552.30,79.15 L551.67,79.60 L551.03,79.13 L550.40,81.13Z" fill="#878787"/>
<line x1="574.10" y1="83.00" x2="574.10" y2="150.00" stroke="#cacaca" stroke-width="0.9" />
<line x1="584.70" y1="83.00" x2="584.70" y2="150.00" stroke="#cacaca" stroke-width="0.9" />
<path d="M573.70,58.91 L574.33,57.99 L574.97,58.46 L575.60,58.37 L576.23,59.34 L576.87,58.53 L577.50,59.59 L578.13,58.74 L578.77,59.34 L579.40,59.59 L580.03,59.45 L580.67,59.11 L581.30,60.01 L581.93,60.29 L582.57,59.92 L583.20,60.38 L583.83,60.65 L584.47,60.70 L585.10,60.94 L585.10,85.82 L584.47,86.20 L583.83,85.26 L583.20,86.17 L582.57,85.54 L581.93,85.11 L581.30,85.46 L580.67,85.60 L580.03,84.65 L579.40,84.85 L578.77,84.49 L578.13,84.80 L577.50,84.51 L576.87,84.82 L576.23,84.48 L575.60,84.96 L574.97,84.33 L574.33,84.26 L573.70,84.04Z" fill="#b9b9b9"/>
<path d="M573.70,61.19 L574.33,62.11 L574.97,61.17 L575.60,61.55 L576.23,62.10 L576.87,62.91 L577.50,61.49 L578.13,62.78 L578.77,62.59 L579.40,62.53 L580.03,62.08 L580.67,62.06 L581.30,61.46 L581.93,61.76 L582.57,61.73 L583.20,63.44 L583.83,62.39 L584.47,62.28 L585.10,62.20 L585.10,83.52 L584.47,82.52 L583.83,83.29 L583.20,83.09 L582.57,84.58 L581.93,82.77 L581.30,83.41 L580.67,84.35 L580.03,84.24 L579.40,82.48 L578.77,82.84 L578.13,82.06 L577.50,82.70 L576.87,82.22 L576.23,82.01 L575.60,82.03 L574.97,82.88 L574.33,83.27 L573.70,83.12Z" fill="#878787"/>
<line x1="597.60" y1="83.50" x2="597.60" y2="150.00" stroke="#cacaca" stroke-width="0.9" />
<line x1="608.20" y1="83.50" x2="608.20" y2="150.00" stroke="#cacaca" stroke-width="0.9" />
<path d="M597.20,60.33 L597.83,60.41 L598.47,60.88 L599.10,60.63 L599.73,61.34 L600.37,61.14 L601.00,61.46 L601.63,61.20 L602.27,61.74 L602.90,61.87 L603.53,61.65 L604.17,61.84 L604.80,61.53 L605.43,61.71 L606.07,61.55 L606.70,61.78 L607.33,61.82 L607.97,61.73 L608.60,62.43 L608.60,86.87 L607.97,86.42 L607.33,86.63 L606.70,86.52 L606.07,86.47 L605.43,85.99 L604.80,85.93 L604.17,85.38 L603.53,86.11 L602.90,85.93 L602.27,85.72 L601.63,85.95 L601.00,85.80 L600.37,84.77 L599.73,85.41 L599.10,85.42 L598.47,84.65 L597.83,85.57 L597.20,84.69Z" fill="#b9b9b9"/>
<path d="M597.20,63.54 L597.83,63.68 L598.47,62.67 L599.10,62.31 L599.73,62.66 L600.37,63.32 L601.00,62.82 L601.63,64.68 L602.27,64.13 L602.90,64.41 L603.53,64.51 L604.17,64.76 L604.80,64.41 L605.43,63.35 L606.07,65.37 L606.70,65.36 L607.33,64.88 L607.97,65.07 L608.60,65.48 L608.60,83.71 L607.97,83.37 L607.33,83.12 L606.70,84.39 L606.07,84.25 L605.43,84.52 L604.80,84.24 L604.17,83.67 L603.53,83.35 L602.90,83.54 L602.27,84.61 L601.63,83.96 L601.00,82.59 L600.37,83.77 L599.73,82.57 L599.10,82.03 L598.47,82.37 L597.83,83.45 L597.20,81.76Z" fill="#878787"/>
<line x1="620.60" y1="82.60" x2="620.60" y2="150.00" stroke="#cacaca" stroke-width="0.9" />
<path d="M620.20,60.91 L620.88,61.83 L621.56,61.92 L622.24,62.99 L622.92,63.33 L623.60,63.48 L623.60,85.46 L622.92,85.22 L622.24,84.65 L621.56,84.81 L620.88,84.53 L620.20,84.21Z" fill="#b9b9b9"/>
<path d="M620.20,63.92 L620.88,63.48 L621.56,65.74 L622.24,64.48 L622.92,66.75 L623.60,67.05 L623.60,82.84 L622.92,82.98 L622.24,83.92 L621.56,83.27 L620.88,82.10 L620.20,80.74Z" fill="#878787"/>
<path d="M468.60,128.99 L469.21,128.25 L469.82,128.99 L470.43,128.62 L471.04,129.06 L471.65,128.68 L472.26,128.25 L472.87,129.07 L473.48,128.38 L474.09,128.69 L474.71,128.31 L475.32,128.50 L475.93,128.97 L476.54,128.30 L477.15,128.71 L477.76,129.18 L478.37,129.20 L478.98,128.71 L479.59,128.75 L480.20,128.90 L480.20,151.34 L479.59,151.52 L478.98,151.64 L478.37,151.59 L477.76,151.77 L477.15,152.10 L476.54,151.61 L475.93,151.60 L475.32,151.53 L474.71,152.02 L474.09,151.87 L473.48,152.04 L472.87,151.40 L472.26,151.97 L471.65,151.90 L471.04,151.30 L470.43,151.97 L469.82,151.55 L469.21,151.58 L468.60,151.41Z" fill="#b9b9b9"/>
<path d="M468.60,130.90 L469.21,132.37 L469.82,131.27 L470.43,132.57 L471.04,131.20 L471.65,131.23 L472.26,131.72 L472.87,131.08 L473.48,131.45 L474.09,132.61 L474.71,132.47 L475.32,132.32 L475.93,131.96 L476.54,132.53 L477.15,132.58 L477.76,131.80 L478.37,132.14 L478.98,130.80 L479.59,132.16 L480.20,131.60 L480.20,151.35 L479.59,150.23 L478.98,150.16 L478.37,150.17 L477.76,150.53 L477.15,150.79 L476.54,150.38 L475.93,150.95 L475.32,150.32 L474.71,151.46 L474.09,151.08 L473.48,150.38 L472.87,150.45 L472.26,150.66 L471.65,150.10 L471.04,151.38 L470.43,149.98 L469.82,150.36 L469.21,150.93 L468.60,151.10Z" fill="#878787"/>
<path d="M491.93,128.70 L492.54,128.98 L493.15,128.29 L493.76,128.20 L494.37,128.75 L494.98,129.06 L495.59,129.01 L496.20,129.11 L496.81,128.86 L497.42,129.11 L498.04,128.96 L498.65,128.94 L499.26,128.63 L499.87,128.31 L500.48,128.45 L501.09,128.79 L501.70,128.79 L502.31,128.68 L502.92,128.82 L503.53,128.86 L503.53,151.68 L502.92,152.02 L502.31,151.87 L501.70,151.33 L501.09,151.32 L500.48,152.00 L499.87,151.98 L499.26,152.06 L498.65,151.66 L498.04,151.62 L497.42,151.50 L496.81,151.52 L496.20,151.47 L495.59,151.99 L494.98,151.80 L494.37,151.70 L493.76,151.40 L493.15,152.07 L492.54,151.52 L491.93,151.35Z" fill="#b9b9b9"/>
<path d="M491.93,131.87 L492.54,130.70 L493.15,131.48 L493.76,132.55 L494.37,132.35 L494.98,132.41 L495.59,132.64 L496.20,131.20 L496.81,130.92 L497.42,131.01 L498.04,131.74 L498.65,132.06 L499.26,132.58 L499.87,132.14 L500.48,131.99 L501.09,132.23 L501.70,131.61 L502.31,131.80 L502.92,130.78 L503.53,132.26 L503.53,150.93 L502.92,151.43 L502.31,150.64 L501.70,150.38 L501.09,149.92 L500.48,150.86 L499.87,150.26 L499.26,150.52 L498.65,150.83 L498.04,150.74 L497.42,150.01 L496.81,150.08 L496.20,151.02 L495.59,150.92 L494.98,150.30 L494.37,150.10 L493.76,150.39 L493.15,150.93 L492.54,151.37 L491.93,150.27Z" fill="#878787"/>
<path d="M515.26,128.32 L515.87,128.72 L516.48,128.97 L517.09,128.95 L517.70,128.24 L518.31,128.50 L518.92,128.89 L519.53,129.18 L520.14,128.70 L520.75,128.53 L521.37,128.78 L521.98,128.94 L522.59,128.53 L523.20,128.27 L523.81,128.97 L524.42,129.17 L525.03,128.86 L525.64,128.78 L526.25,128.52 L526.86,129.00 L526.86,151.61 L526.25,151.42 L525.64,152.06 L525.03,151.83 L524.42,151.63 L523.81,151.48 L523.20,151.45 L522.59,151.70 L521.98,152.06 L521.37,151.54 L520.75,151.91 L520.14,151.48 L519.53,151.48 L518.92,151.96 L518.31,151.55 L517.70,152.08 L517.09,151.46 L516.48,151.70 L515.87,151.89 L515.26,151.94Z" fill="#b9b9b9"/>
<path d="M515.26,131.13 L515.87,132.65 L516.48,130.98 L517.09,130.80 L517.70,130.82 L518.31,131.49 L518.92,132.50 L519.53,132.47 L520.14,132.17 L520.75,132.70 L521.37,132.56 L521.98,131.36 L522.59,131.07 L523.20,132.57 L523.81,132.19 L524.42,130.76 L525.03,132.03 L525.64,131.46 L526.25,131.45 L526.86,131.36 L526.86,149.95 L526.25,151.34 L525.64,150.48 L525.03,150.21 L524.42,151.37 L523.81,150.50 L523.20,150.66 L522.59,149.98 L521.98,150.59 L521.37,151.22 L520.75,151.21 L520.14,150.47 L519.53,150.23 L518.92,151.44 L518.31,150.10 L517.70,151.43 L517.09,150.46 L516.48,150.35 L515.87,149.90 L515.26,150.17Z" fill="#878787"/>
<path d="M538.59,128.79 L539.20,128.39 L539.81,128.43 L540.42,129.16 L541.03,129.17 L541.64,129.14 L542.25,128.28 L542.86,128.94 L543.47,128.45 L544.08,128.30 L544.70,128.86 L545.31,128.93 L545.92,128.24 L546.53,128.58 L547.14,128.94 L547.75,128.48 L548.36,128.88 L548.97,128.92 L549.58,129.20 L550.19,128.44 L550.19,151.56 L549.58,151.79 L548.97,151.92 L548.36,151.96 L547.75,151.89 L547.14,151.94 L546.53,151.45 L545.92,152.04 L545.31,151.69 L544.70,151.64 L544.08,151.50 L543.47,151.61 L542.86,152.06 L542.25,152.07 L541.64,151.68 L541.03,151.49 L540.42,151.32 L539.81,152.05 L539.20,151.81 L538.59,152.03Z" fill="#b9b9b9"/>
<path d="M538.59,131.34 L539.20,131.42 L539.81,132.26 L540.42,130.86 L541.03,131.09 L541.64,132.21 L542.25,131.19 L542.86,130.83 L543.47,130.77 L544.08,131.81 L544.70,131.35 L545.31,132.66 L545.92,132.47 L546.53,132.68 L547.14,131.23 L547.75,130.87 L548.36,130.89 L548.97,131.70 L549.58,132.12 L550.19,131.59 L550.19,150.42 L549.58,150.83 L548.97,151.31 L548.36,150.15 L547.75,150.29 L547.14,150.30 L546.53,150.22 L545.92,151.08 L545.31,150.50 L544.70,150.81 L544.08,150.37 L543.47,151.25 L542.86,150.09 L542.25,150.96 L541.64,151.26 L541.03,151.10 L540.42,150.98 L539.81,150.89 L539.20,150.57 L538.59,150.27Z" fill="#878787"/>
<path d="M561.92,128.80 L562.53,128.21 L563.14,128.69 L563.75,128.97 L564.36,128.39 L564.97,128.55 L565.58,128.21 L566.19,129.10 L566.80,128.73 L567.41,128.38 L568.03,128.36 L568.64,128.29 L569.25,129.16 L569.86,128.91 L570.47,129.08 L571.08,129.01 L571.69,128.23 L572.30,128.62 L572.91,128.27 L573.52,128.83 L573.52,151.45 L572.91,151.84 L572.30,151.56 L571.69,151.31 L571.08,151.46 L570.47,151.82 L569.86,151.78 L569.25,151.50 L568.64,151.46 L568.03,151.41 L567.41,151.59 L566.80,151.47 L566.19,151.80 L565.58,151.78 L564.97,151.38 L564.36,152.06 L563.75,151.92 L563.14,151.51 L562.53,151.66 L561.92,151.99Z" fill="#b9b9b9"/>
<path d="M561.92,131.32 L562.53,131.11 L563.14,132.29 L563.75,131.80 L564.36,130.83 L564.97,130.90 L565.58,131.49 L566.19,131.80 L566.80,131.98 L567.41,130.88 L568.03,131.03 L568.64,132.09 L569.25,131.52 L569.86,131.27 L570.47,131.32 L571.08,132.61 L571.69,131.32 L572.30,131.83 L572.91,131.41 L573.52,131.53 L573.52,150.90 L572.91,150.04 L572.30,151.36 L571.69,150.93 L571.08,150.78 L570.47,149.92 L569.86,150.16 L569.25,150.64 L568.64,151.31 L568.03,150.55 L567.41,151.21 L566.80,150.58 L566.19,151.34 L565.58,149.91 L564.97,150.23 L564.36,151.06 L563.75,150.22 L563.14,150.48 L562.53,151.49 L561.92,151.28Z" fill="#878787"/>
<path d="M585.25,128.83 L585.86,128.70 L586.47,129.05 L587.08,128.92 L587.69,128.68 L588.30,128.27 L588.91,129.09 L589.52,128.71 L590.13,128.40 L590.74,128.23 L591.36,129.00 L591.97,129.07 L592.58,128.26 L593.19,128.22 L593.80,128.72 L594.41,129.15 L595.02,128.27 L595.63,128.81 L596.24,128.30 L596.85,128.58 L596.85,151.33 L596.24,151.91 L595.63,151.75 L595.02,151.33 L594.41,152.02 L593.80,151.88 L593.19,151.50 L592.58,151.40 L591.97,151.61 L591.36,151.71 L590.74,151.62 L590.13,151.47 L589.52,151.45 L588.91,151.96 L588.30,151.98 L587.69,151.62 L587.08,151.48 L586.47,151.93 L585.86,151.43 L585.25,151.96Z" fill="#b9b9b9"/>
<path d="M585.25,132.38 L585.86,130.94 L586.47,131.90 L587.08,131.80 L587.69,131.95 L588.30,131.31 L588.91,131.54 L589.52,131.87 L590.13,131.55 L590.74,132.02 L591.36,131.59 L591.97,131.58 L592.58,130.75 L593.19,131.94 L593.80,131.68 L594.41,131.17 L595.02,132.23 L595.63,132.26 L596.24,131.62 L596.85,131.06 L596.85,151.49 L596.24,151.27 L595.63,150.12 L595.02,151.42 L594.41,150.50 L593.80,150.71 L593.19,149.99 L592.58,150.72 L591.97,151.14 L591.36,151.07 L590.74,150.03 L590.13,150.92 L589.52,149.97 L588.91,150.72 L588.30,150.61 L587.69,150.05 L587.08,150.59 L586.47,150.11 L585.86,150.07 L585.25,150.66Z" fill="#878787"/>
<path d="M608.58,128.47 L609.19,128.39 L609.80,129.01 L610.41,128.22 L611.02,128.71 L611.63,128.24 L612.24,128.28 L612.85,129.03 L613.46,128.41 L614.07,128.27 L614.69,129.13 L615.30,128.85 L615.91,128.44 L616.52,129.04 L617.13,128.30 L617.74,128.93 L618.35,128.38 L618.96,129.06 L619.57,128.70 L620.18,128.28 L620.18,152.01 L619.57,151.76 L618.96,151.74 L618.35,152.00 L617.74,151.59 L617.13,151.81 L616.52,151.72 L615.91,151.39 L615.30,151.93 L614.69,151.43 L614.07,152.02 L613.46,151.84 L612.85,152.05 L612.24,151.43 L611.63,151.45 L611.02,151.33 L610.41,151.56 L609.80,151.70 L609.19,151.51 L608.58,151.47Z" fill="#b9b9b9"/>
<path d="M608.58,130.91 L609.19,132.69 L609.80,131.96 L610.41,131.49 L611.02,132.30 L611.63,131.23 L612.24,132.68 L612.85,131.85 L613.46,131.42 L614.07,132.23 L614.69,131.58 L615.30,131.05 L615.91,132.19 L616.52,130.80 L617.13,132.34 L617.74,131.21 L618.35,131.98 L618.96,132.67 L619.57,131.87 L620.18,132.03 L620.18,150.23 L619.57,150.84 L618.96,150.83 L618.35,150.26 L617.74,150.47 L617.13,150.07 L616.52,150.47 L615.91,149.90 L615.30,149.94 L614.69,150.94 L614.07,150.26 L613.46,150.11 L612.85,151.33 L612.24,150.72 L611.63,150.59 L611.02,150.89 L610.41,150.14 L609.80,149.95 L609.19,149.90 L608.58,150.40Z" fill="#878787"/>
<line x1="462.30" y1="17.30" x2="625.80" y2="17.30" stroke="#7a7a7a" stroke-width="1.5" />
<line x1="625.80" y1="17.30" x2="625.80" y2="152.40" stroke="#7a7a7a" stroke-width="1.5" />
<line x1="462.30" y1="152.40" x2="625.80" y2="152.40" stroke="#5e5e5e" stroke-width="1.4" />
<line x1="462.30" y1="17.30" x2="462.30" y2="152.40" stroke="#5e5e5e" stroke-width="1.4" />
<line x1="462.30" y1="149.50" x2="465.30" y2="149.50" stroke="#555" stroke-width="1" />
<line x1="462.30" y1="116.55" x2="465.30" y2="116.55" stroke="#555" stroke-width="1" />
<line x1="462.30" y1="83.60" x2="465.30" y2="83.60" stroke="#555" stroke-width="1" />
<line x1="462.30" y1="50.65" x2="465.30" y2="50.65" stroke="#555" stroke-width="1" />
<line x1="462.30" y1="17.70" x2="465.30" y2="17.70" stroke="#555" stroke-width="1" />
<line x1="462.30" y1="133.03" x2="464.10" y2="133.03" stroke="#777" stroke-width="0.8" />
<line x1="462.30" y1="100.08" x2="464.10" y2="100.08" stroke="#777" stroke-width="0.8" />
<line x1="462.30" y1="67.12" x2="464.10" y2="67.12" stroke="#777" stroke-width="0.8" />
<line x1="462.30" y1="34.18" x2="464.10" y2="34.18" stroke="#777" stroke-width="0.8" />
<line x1="473.40" y1="152.40" x2="473.40" y2="149.40" stroke="#555" stroke-width="1" />
<line x1="496.75" y1="152.40" x2="496.75" y2="149.40" stroke="#555" stroke-width="1" />
<line x1="520.10" y1="152.40" x2="520.10" y2="149.40" stroke="#555" stroke-width="1" />
<line x1="543.45" y1="152.40" x2="543.45" y2="149.40" stroke="#555" stroke-width="1" />
<line x1="566.80" y1="152.40" x2="566.80" y2="149.40" stroke="#555" stroke-width="1" />
<line x1="590.15" y1="152.40" x2="590.15" y2="149.40" stroke="#555" stroke-width="1" />
<line x1="613.50" y1="152.40" x2="613.50" y2="149.40" stroke="#555" stroke-width="1" />
<line x1="485.07" y1="152.40" x2="485.07" y2="150.60" stroke="#777" stroke-width="0.8" />
<line x1="508.42" y1="152.40" x2="508.42" y2="150.60" stroke="#777" stroke-width="0.8" />
<line x1="531.77" y1="152.40" x2="531.77" y2="150.60" stroke="#777" stroke-width="0.8" />
<line x1="555.12" y1="152.40" x2="555.12" y2="150.60" stroke="#777" stroke-width="0.8" />
<line x1="578.48" y1="152.40" x2="578.48" y2="150.60" stroke="#777" stroke-width="0.8" />
<line x1="601.83" y1="152.40" x2="601.83" y2="150.60" stroke="#777" stroke-width="0.8" />
<line x1="625.17" y1="152.40" x2="625.17" y2="150.60" stroke="#777" stroke-width="0.8" />
<line x1="470.00" y1="27.50" x2="492.00" y2="27.50" stroke="#1c28c8" stroke-width="1.5" stroke-dasharray="3,1.6"/>
<line x1="470.00" y1="40.00" x2="492.00" y2="40.00" stroke="#d42020" stroke-width="1.5" stroke-dasharray="3,1.6"/>
<text x="495" y="31.2" font-size="10.8" fill="#1a1a1a">240 pA @100 nW/cm<tspan font-size="7.5" dy="-4.2">2</tspan></text>
<text x="495" y="44.2" font-size="10.8" fill="#1a1a1a" xml:space="preserve">23   pA @dark</text>
<line x1="497.00" y1="67.90" x2="519.80" y2="67.90" stroke="#1c28c8" stroke-width="1.5" stroke-dasharray="3,1.6"/>
<line x1="487.60" y1="139.80" x2="509.60" y2="139.80" stroke="#d42020" stroke-width="1.5" stroke-dasharray="3,1.6"/>
<text x="3.50" y="199.60" font-size="19" text-anchor="start" font-weight="bold" fill="#111" >d</text>
<line x1="43.50" y1="201.00" x2="208.80" y2="201.00" stroke="#7a7a7a" stroke-width="1.5" />
<line x1="208.80" y1="201.00" x2="208.80" y2="338.60" stroke="#7a7a7a" stroke-width="1.5" />
<line x1="43.50" y1="338.60" x2="208.80" y2="338.60" stroke="#5e5e5e" stroke-width="1.4" />
<line x1="43.50" y1="201.00" x2="43.50" y2="338.60" stroke="#5e5e5e" stroke-width="1.4" />
<line x1="43.50" y1="328.40" x2="46.50" y2="328.40" stroke="#555" stroke-width="1" />
<text x="35.80" y="328.90" font-size="10" text-anchor="middle" font-weight="normal" fill="#1a1a1a" >0</text>
<line x1="43.50" y1="307.20" x2="46.50" y2="307.20" stroke="#555" stroke-width="1" />
<text x="35.80" y="308.24" font-size="10" text-anchor="middle" font-weight="normal" fill="#1a1a1a" >2</text>
<line x1="43.50" y1="286.00" x2="46.50" y2="286.00" stroke="#555" stroke-width="1" />
<text x="35.80" y="287.58" font-size="10" text-anchor="middle" font-weight="normal" fill="#1a1a1a" >4</text>
<line x1="43.50" y1="264.80" x2="46.50" y2="264.80" stroke="#555" stroke-width="1" />
<text x="35.80" y="266.92" font-size="10" text-anchor="middle" font-weight="normal" fill="#1a1a1a" >6</text>
<line x1="43.50" y1="243.60" x2="46.50" y2="243.60" stroke="#555" stroke-width="1" />
<text x="35.80" y="246.26" font-size="10" text-anchor="middle" font-weight="normal" fill="#1a1a1a" >8</text>
<line x1="43.50" y1="222.40" x2="46.50" y2="222.40" stroke="#555" stroke-width="1" />
<text x="35.80" y="225.60" font-size="10" text-anchor="middle" font-weight="normal" fill="#1a1a1a" >10</text>
<line x1="43.50" y1="201.20" x2="46.50" y2="201.20" stroke="#555" stroke-width="1" />
<text x="35.80" y="204.94" font-size="10" text-anchor="middle" font-weight="normal" fill="#1a1a1a" >12</text>
<line x1="43.50" y1="317.80" x2="45.30" y2="317.80" stroke="#777" stroke-width="0.8" />
<line x1="43.50" y1="296.60" x2="45.30" y2="296.60" stroke="#777" stroke-width="0.8" />
<line x1="43.50" y1="275.40" x2="45.30" y2="275.40" stroke="#777" stroke-width="0.8" />
<line x1="43.50" y1="254.20" x2="45.30" y2="254.20" stroke="#777" stroke-width="0.8" />
<line x1="43.50" y1="233.00" x2="45.30" y2="233.00" stroke="#777" stroke-width="0.8" />
<line x1="43.50" y1="211.80" x2="45.30" y2="211.80" stroke="#777" stroke-width="0.8" />
<line x1="43.50" y1="338.60" x2="43.50" y2="335.60" stroke="#555" stroke-width="1" />
<text x="43.20" y="350.00" font-size="10" text-anchor="middle" font-weight="normal" fill="#1a1a1a" >200</text>
<line x1="71.00" y1="338.60" x2="71.00" y2="335.60" stroke="#555" stroke-width="1" />
<text x="70.70" y="350.00" font-size="10" text-anchor="middle" font-weight="normal" fill="#1a1a1a" >400</text>
<line x1="98.50" y1="338.60" x2="98.50" y2="335.60" stroke="#555" stroke-width="1" />
<text x="98.20" y="350.00" font-size="10" text-anchor="middle" font-weight="normal" fill="#1a1a1a" >600</text>
<line x1="126.00" y1="338.60" x2="126.00" y2="335.60" stroke="#555" stroke-width="1" />
<text x="125.70" y="350.00" font-size="10" text-anchor="middle" font-weight="normal" fill="#1a1a1a" >800</text>
<line x1="153.50" y1="338.60" x2="153.50" y2="335.60" stroke="#555" stroke-width="1" />
<text x="153.20" y="350.00" font-size="10" text-anchor="middle" font-weight="normal" fill="#1a1a1a" >1000</text>
<line x1="181.00" y1="338.60" x2="181.00" y2="335.60" stroke="#555" stroke-width="1" />
<text x="180.70" y="350.00" font-size="10" text-anchor="middle" font-weight="normal" fill="#1a1a1a" >1200</text>
<line x1="208.50" y1="338.60" x2="208.50" y2="335.60" stroke="#555" stroke-width="1" />
<text x="208.20" y="350.00" font-size="10" text-anchor="middle" font-weight="normal" fill="#1a1a1a" >1400</text>
<line x1="57.25" y1="338.60" x2="57.25" y2="336.80" stroke="#777" stroke-width="0.8" />
<line x1="84.75" y1="338.60" x2="84.75" y2="336.80" stroke="#777" stroke-width="0.8" />
<line x1="112.25" y1="338.60" x2="112.25" y2="336.80" stroke="#777" stroke-width="0.8" />
<line x1="139.75" y1="338.60" x2="139.75" y2="336.80" stroke="#777" stroke-width="0.8" />
<line x1="167.25" y1="338.60" x2="167.25" y2="336.80" stroke="#777" stroke-width="0.8" />
<line x1="194.75" y1="338.60" x2="194.75" y2="336.80" stroke="#777" stroke-width="0.8" />
<text x="122.20" y="363.30" font-size="10.9" text-anchor="middle" font-weight="bold" fill="#1a1a1a" >Wavelength (nm)</text>
<text x="0" y="0" font-size="10.9" font-weight="bold" text-anchor="middle" fill="#1a1a1a" transform="translate(19.80,270.20) rotate(-90)">Responsibility (mA/W)</text>
<text x="104.00" y="228.40" font-size="10.7" text-anchor="start" font-weight="bold" fill="#1a1a1a" >Si-CuSCN PD</text>
<path d="M57.20,255.50 L60.00,240.70 L64.10,210.30 L71.00,248.20 L77.90,274.30 L84.80,286.30 L91.70,287.00 L98.50,288.60 L105.50,290.10 L112.40,292.90 L119.30,289.50 L126.20,286.60 L133.10,285.50 L140.00,287.80 L146.80,291.40 L153.80,293.50 L160.50,300.90 L167.40,310.40 L174.20,320.50 L181.20,328.10 L188.10,328.10 L195.00,328.10 L201.90,328.10" stroke="#333" stroke-width="0.9" fill="none" />
<circle cx="57.20" cy="255.50" r="3.25" fill="url(#ball)"/>
<circle cx="60.00" cy="240.70" r="3.25" fill="url(#ball)"/>
<circle cx="64.10" cy="210.30" r="3.25" fill="url(#ball)"/>
<circle cx="71.00" cy="248.20" r="3.25" fill="url(#ball)"/>
<circle cx="77.90" cy="274.30" r="3.25" fill="url(#ball)"/>
<circle cx="84.80" cy="286.30" r="3.25" fill="url(#ball)"/>
<circle cx="91.70" cy="287.00" r="3.25" fill="url(#ball)"/>
<circle cx="98.50" cy="288.60" r="3.25" fill="url(#ball)"/>
<circle cx="105.50" cy="290.10" r="3.25" fill="url(#ball)"/>
<circle cx="112.40" cy="292.90" r="3.25" fill="url(#ball)"/>
<circle cx="119.30" cy="289.50" r="3.25" fill="url(#ball)"/>
<circle cx="126.20" cy="286.60" r="3.25" fill="url(#ball)"/>
<circle cx="133.10" cy="285.50" r="3.25" fill="url(#ball)"/>
<circle cx="140.00" cy="287.80" r="3.25" fill="url(#ball)"/>
<circle cx="146.80" cy="291.40" r="3.25" fill="url(#ball)"/>
<circle cx="153.80" cy="293.50" r="3.25" fill="url(#ball)"/>
<circle cx="160.50" cy="300.90" r="3.25" fill="url(#ball)"/>
<circle cx="167.40" cy="310.40" r="3.25" fill="url(#ball)"/>
<circle cx="174.20" cy="320.50" r="3.25" fill="url(#ball)"/>
<circle cx="181.20" cy="328.10" r="3.25" fill="url(#ball)"/>
<circle cx="188.10" cy="328.10" r="3.25" fill="url(#ball)"/>
<circle cx="195.00" cy="328.10" r="3.25" fill="url(#ball)"/>
<circle cx="201.90" cy="328.10" r="3.25" fill="url(#ball)"/>
<text x="220.50" y="199.20" font-size="19" text-anchor="start" font-weight="bold" fill="#111" >e</text>
<line x1="255.40" y1="203.50" x2="420.30" y2="203.50" stroke="#7a7a7a" stroke-width="1.5" />
<line x1="420.30" y1="203.50" x2="420.30" y2="339.00" stroke="#7a7a7a" stroke-width="1.5" />
<line x1="255.40" y1="339.00" x2="420.30" y2="339.00" stroke="#5e5e5e" stroke-width="1.4" />
<line x1="255.40" y1="203.50" x2="255.40" y2="339.00" stroke="#5e5e5e" stroke-width="1.4" />
<line x1="255.40" y1="339.00" x2="258.40" y2="339.00" stroke="#555" stroke-width="1" />
<text x="247.40" y="343.60" font-size="10" text-anchor="end" fill="#1a1a1a">10</text>
<text x="246.85" y="338.70" font-size="7" fill="#1a1a1a">9</text>
<line x1="255.40" y1="306.50" x2="258.40" y2="306.50" stroke="#555" stroke-width="1" />
<text x="247.40" y="309.80" font-size="10" text-anchor="end" fill="#1a1a1a">10</text>
<text x="246.85" y="304.90" font-size="7" fill="#1a1a1a">10</text>
<line x1="255.40" y1="273.00" x2="258.40" y2="273.00" stroke="#555" stroke-width="1" />
<text x="247.40" y="276.30" font-size="10" text-anchor="end" fill="#1a1a1a">10</text>
<text x="246.85" y="271.40" font-size="7" fill="#1a1a1a">11</text>
<line x1="255.40" y1="239.50" x2="258.40" y2="239.50" stroke="#555" stroke-width="1" />
<text x="247.40" y="242.80" font-size="10" text-anchor="end" fill="#1a1a1a">10</text>
<text x="246.85" y="237.90" font-size="7" fill="#1a1a1a">12</text>
<line x1="255.40" y1="206.00" x2="258.40" y2="206.00" stroke="#555" stroke-width="1" />
<text x="247.40" y="207.60" font-size="10" text-anchor="end" fill="#1a1a1a">10</text>
<text x="246.85" y="202.70" font-size="7" fill="#1a1a1a">13</text>
<line x1="255.40" y1="329.92" x2="257.00" y2="329.92" stroke="#777" stroke-width="0.8" />
<line x1="255.40" y1="324.02" x2="257.00" y2="324.02" stroke="#777" stroke-width="0.8" />
<line x1="255.40" y1="319.83" x2="257.00" y2="319.83" stroke="#777" stroke-width="0.8" />
<line x1="255.40" y1="316.58" x2="257.00" y2="316.58" stroke="#777" stroke-width="0.8" />
<line x1="255.40" y1="313.93" x2="257.00" y2="313.93" stroke="#777" stroke-width="0.8" />
<line x1="255.40" y1="311.69" x2="257.00" y2="311.69" stroke="#777" stroke-width="0.8" />
<line x1="255.40" y1="309.75" x2="257.00" y2="309.75" stroke="#777" stroke-width="0.8" />
<line x1="255.40" y1="308.03" x2="257.00" y2="308.03" stroke="#777" stroke-width="0.8" />
<line x1="255.40" y1="296.42" x2="257.00" y2="296.42" stroke="#777" stroke-width="0.8" />
<line x1="255.40" y1="290.52" x2="257.00" y2="290.52" stroke="#777" stroke-width="0.8" />
<line x1="255.40" y1="286.33" x2="257.00" y2="286.33" stroke="#777" stroke-width="0.8" />
<line x1="255.40" y1="283.08" x2="257.00" y2="283.08" stroke="#777" stroke-width="0.8" />
<line x1="255.40" y1="280.43" x2="257.00" y2="280.43" stroke="#777" stroke-width="0.8" />
<line x1="255.40" y1="278.19" x2="257.00" y2="278.19" stroke="#777" stroke-width="0.8" />
<line x1="255.40" y1="276.25" x2="257.00" y2="276.25" stroke="#777" stroke-width="0.8" />
<line x1="255.40" y1="274.53" x2="257.00" y2="274.53" stroke="#777" stroke-width="0.8" />
<line x1="255.40" y1="262.92" x2="257.00" y2="262.92" stroke="#777" stroke-width="0.8" />
<line x1="255.40" y1="257.02" x2="257.00" y2="257.02" stroke="#777" stroke-width="0.8" />
<line x1="255.40" y1="252.83" x2="257.00" y2="252.83" stroke="#777" stroke-width="0.8" />
<line x1="255.40" y1="249.58" x2="257.00" y2="249.58" stroke="#777" stroke-width="0.8" />
<line x1="255.40" y1="246.93" x2="257.00" y2="246.93" stroke="#777" stroke-width="0.8" />
<line x1="255.40" y1="244.69" x2="257.00" y2="244.69" stroke="#777" stroke-width="0.8" />
<line x1="255.40" y1="242.75" x2="257.00" y2="242.75" stroke="#777" stroke-width="0.8" />
<line x1="255.40" y1="241.03" x2="257.00" y2="241.03" stroke="#777" stroke-width="0.8" />
<line x1="255.40" y1="229.42" x2="257.00" y2="229.42" stroke="#777" stroke-width="0.8" />
<line x1="255.40" y1="223.52" x2="257.00" y2="223.52" stroke="#777" stroke-width="0.8" />
<line x1="255.40" y1="219.33" x2="257.00" y2="219.33" stroke="#777" stroke-width="0.8" />
<line x1="255.40" y1="216.08" x2="257.00" y2="216.08" stroke="#777" stroke-width="0.8" />
<line x1="255.40" y1="213.43" x2="257.00" y2="213.43" stroke="#777" stroke-width="0.8" />
<line x1="255.40" y1="211.19" x2="257.00" y2="211.19" stroke="#777" stroke-width="0.8" />
<line x1="255.40" y1="209.25" x2="257.00" y2="209.25" stroke="#777" stroke-width="0.8" />
<line x1="255.40" y1="207.53" x2="257.00" y2="207.53" stroke="#777" stroke-width="0.8" />
<line x1="255.40" y1="339.00" x2="255.40" y2="336.00" stroke="#555" stroke-width="1" />
<text x="255.40" y="349.40" font-size="10" text-anchor="middle" font-weight="normal" fill="#1a1a1a" >200</text>
<line x1="282.90" y1="339.00" x2="282.90" y2="336.00" stroke="#555" stroke-width="1" />
<text x="282.90" y="349.40" font-size="10" text-anchor="middle" font-weight="normal" fill="#1a1a1a" >400</text>
<line x1="310.40" y1="339.00" x2="310.40" y2="336.00" stroke="#555" stroke-width="1" />
<text x="310.40" y="349.40" font-size="10" text-anchor="middle" font-weight="normal" fill="#1a1a1a" >600</text>
<line x1="337.90" y1="339.00" x2="337.90" y2="336.00" stroke="#555" stroke-width="1" />
<text x="337.90" y="349.40" font-size="10" text-anchor="middle" font-weight="normal" fill="#1a1a1a" >800</text>
<line x1="365.40" y1="339.00" x2="365.40" y2="336.00" stroke="#555" stroke-width="1" />
<text x="365.40" y="349.40" font-size="10" text-anchor="middle" font-weight="normal" fill="#1a1a1a" >1000</text>
<line x1="392.90" y1="339.00" x2="392.90" y2="336.00" stroke="#555" stroke-width="1" />
<text x="392.90" y="349.40" font-size="10" text-anchor="middle" font-weight="normal" fill="#1a1a1a" >1200</text>
<line x1="420.40" y1="339.00" x2="420.40" y2="336.00" stroke="#555" stroke-width="1" />
<text x="420.40" y="349.40" font-size="10" text-anchor="middle" font-weight="normal" fill="#1a1a1a" >1400</text>
<line x1="269.15" y1="339.00" x2="269.15" y2="337.20" stroke="#777" stroke-width="0.8" />
<line x1="296.65" y1="339.00" x2="296.65" y2="337.20" stroke="#777" stroke-width="0.8" />
<line x1="324.15" y1="339.00" x2="324.15" y2="337.20" stroke="#777" stroke-width="0.8" />
<line x1="351.65" y1="339.00" x2="351.65" y2="337.20" stroke="#777" stroke-width="0.8" />
<line x1="379.15" y1="339.00" x2="379.15" y2="337.20" stroke="#777" stroke-width="0.8" />
<line x1="406.65" y1="339.00" x2="406.65" y2="337.20" stroke="#777" stroke-width="0.8" />
<text x="334.70" y="363.00" font-size="10.9" text-anchor="middle" font-weight="bold" fill="#1a1a1a" >Wavelength (nm)</text>
<text x="0" y="0" font-size="10.9" font-weight="bold" text-anchor="middle" fill="#1a1a1a" transform="translate(232.20,269.30) rotate(-90)">Detectivity (Jones)</text>
<text x="284.70" y="298.20" font-size="10.7" text-anchor="start" font-weight="bold" fill="#1a1a1a" >Si-CuSCN PD</text>
<path d="M268.50,234.80 L271.60,232.00 L275.70,227.30 L282.60,233.20 L289.50,238.90 L296.40,242.60 L303.10,242.90 L310.00,243.50 L316.80,243.90 L323.80,244.90 L331.00,244.00 L337.80,242.90 L344.50,242.40 L351.50,243.40 L358.20,244.40 L365.30,245.50 L372.00,248.70 L378.70,254.70 L385.80,267.00 L392.60,308.90 L399.50,322.60 L406.50,321.60 L413.70,319.00" stroke="#333" stroke-width="0.9" fill="none" />
<circle cx="268.50" cy="234.80" r="3.15" fill="url(#ball)"/>
<circle cx="271.60" cy="232.00" r="3.15" fill="url(#ball)"/>
<circle cx="275.70" cy="227.30" r="3.15" fill="url(#ball)"/>
<circle cx="282.60" cy="233.20" r="3.15" fill="url(#ball)"/>
<circle cx="289.50" cy="238.90" r="3.15" fill="url(#ball)"/>
<circle cx="296.40" cy="242.60" r="3.15" fill="url(#ball)"/>
<circle cx="303.10" cy="242.90" r="3.15" fill="url(#ball)"/>
<circle cx="310.00" cy="243.50" r="3.15" fill="url(#ball)"/>
<circle cx="316.80" cy="243.90" r="3.15" fill="url(#ball)"/>
<circle cx="323.80" cy="244.90" r="3.15" fill="url(#ball)"/>
<circle cx="331.00" cy="244.00" r="3.15" fill="url(#ball)"/>
<circle cx="337.80" cy="242.90" r="3.15" fill="url(#ball)"/>
<circle cx="344.50" cy="242.40" r="3.15" fill="url(#ball)"/>
<circle cx="351.50" cy="243.40" r="3.15" fill="url(#ball)"/>
<circle cx="358.20" cy="244.40" r="3.15" fill="url(#ball)"/>
<circle cx="365.30" cy="245.50" r="3.15" fill="url(#ball)"/>
<circle cx="372.00" cy="248.70" r="3.15" fill="url(#ball)"/>
<circle cx="378.70" cy="254.70" r="3.15" fill="url(#ball)"/>
<circle cx="385.80" cy="267.00" r="3.15" fill="url(#ball)"/>
<circle cx="392.60" cy="308.90" r="3.15" fill="url(#ball)"/>
<circle cx="399.50" cy="322.60" r="3.15" fill="url(#ball)"/>
<circle cx="406.50" cy="321.60" r="3.15" fill="url(#ball)"/>
<circle cx="413.70" cy="319.00" r="3.15" fill="url(#ball)"/>
<text x="429.50" y="201.60" font-size="19" text-anchor="start" font-weight="bold" fill="#111" >f</text>
<line x1="460.40" y1="203.20" x2="627.50" y2="203.20" stroke="#7a7a7a" stroke-width="1.5" />
<line x1="627.50" y1="203.20" x2="627.50" y2="338.50" stroke="#7a7a7a" stroke-width="1.5" />
<line x1="460.40" y1="338.50" x2="627.50" y2="338.50" stroke="#5e5e5e" stroke-width="1.4" />
<line x1="460.40" y1="203.20" x2="460.40" y2="338.50" stroke="#5e5e5e" stroke-width="1.4" />
<line x1="460.40" y1="220.30" x2="463.40" y2="220.30" stroke="#555" stroke-width="1" />
<text x="454.30" y="223.30" font-size="10" text-anchor="end" font-weight="normal" fill="#1a1a1a" >0</text>
<line x1="460.40" y1="271.05" x2="463.40" y2="271.05" stroke="#555" stroke-width="1" />
<text x="454.60" y="274.05" font-size="10" text-anchor="end" font-weight="normal" fill="#1a1a1a" >-3</text>
<line x1="460.40" y1="321.80" x2="463.40" y2="321.80" stroke="#555" stroke-width="1" />
<text x="454.60" y="324.80" font-size="10" text-anchor="end" font-weight="normal" fill="#1a1a1a" >-6</text>
<line x1="460.40" y1="245.68" x2="462.20" y2="245.68" stroke="#777" stroke-width="0.8" />
<line x1="460.40" y1="296.43" x2="462.20" y2="296.43" stroke="#777" stroke-width="0.8" />
<line x1="475.60" y1="338.50" x2="475.60" y2="335.50" stroke="#555" stroke-width="1" />
<text x="475.60" y="349.40" font-size="10" text-anchor="middle" font-weight="normal" fill="#1a1a1a" >10</text>
<line x1="523.50" y1="338.50" x2="523.50" y2="335.50" stroke="#555" stroke-width="1" />
<text x="523.50" y="349.40" font-size="10" text-anchor="middle" font-weight="normal" fill="#1a1a1a" >100</text>
<line x1="571.40" y1="338.50" x2="571.40" y2="335.50" stroke="#555" stroke-width="1" />
<text x="571.40" y="349.40" font-size="10" text-anchor="middle" font-weight="normal" fill="#1a1a1a" >1000</text>
<line x1="619.30" y1="338.50" x2="619.30" y2="335.50" stroke="#555" stroke-width="1" />
<text x="619.30" y="349.40" font-size="10" text-anchor="middle" font-weight="normal" fill="#1a1a1a" >10000</text>
<line x1="461.18" y1="338.50" x2="461.18" y2="336.90" stroke="#777" stroke-width="0.8" />
<line x1="464.97" y1="338.50" x2="464.97" y2="336.90" stroke="#777" stroke-width="0.8" />
<line x1="468.18" y1="338.50" x2="468.18" y2="336.90" stroke="#777" stroke-width="0.8" />
<line x1="470.96" y1="338.50" x2="470.96" y2="336.90" stroke="#777" stroke-width="0.8" />
<line x1="473.41" y1="338.50" x2="473.41" y2="336.90" stroke="#777" stroke-width="0.8" />
<line x1="490.02" y1="338.50" x2="490.02" y2="336.90" stroke="#777" stroke-width="0.8" />
<line x1="498.45" y1="338.50" x2="498.45" y2="336.90" stroke="#777" stroke-width="0.8" />
<line x1="504.44" y1="338.50" x2="504.44" y2="336.90" stroke="#777" stroke-width="0.8" />
<line x1="509.08" y1="338.50" x2="509.08" y2="336.90" stroke="#777" stroke-width="0.8" />
<line x1="512.87" y1="338.50" x2="512.87" y2="336.90" stroke="#777" stroke-width="0.8" />
<line x1="516.08" y1="338.50" x2="516.08" y2="336.90" stroke="#777" stroke-width="0.8" />
<line x1="518.86" y1="338.50" x2="518.86" y2="336.90" stroke="#777" stroke-width="0.8" />
<line x1="521.31" y1="338.50" x2="521.31" y2="336.90" stroke="#777" stroke-width="0.8" />
<line x1="537.92" y1="338.50" x2="537.92" y2="336.90" stroke="#777" stroke-width="0.8" />
<line x1="546.35" y1="338.50" x2="546.35" y2="336.90" stroke="#777" stroke-width="0.8" />
<line x1="552.34" y1="338.50" x2="552.34" y2="336.90" stroke="#777" stroke-width="0.8" />
<line x1="556.98" y1="338.50" x2="556.98" y2="336.90" stroke="#777" stroke-width="0.8" />
<line x1="560.77" y1="338.50" x2="560.77" y2="336.90" stroke="#777" stroke-width="0.8" />
<line x1="563.98" y1="338.50" x2="563.98" y2="336.90" stroke="#777" stroke-width="0.8" />
<line x1="566.76" y1="338.50" x2="566.76" y2="336.90" stroke="#777" stroke-width="0.8" />
<line x1="569.21" y1="338.50" x2="569.21" y2="336.90" stroke="#777" stroke-width="0.8" />
<line x1="585.82" y1="338.50" x2="585.82" y2="336.90" stroke="#777" stroke-width="0.8" />
<line x1="594.25" y1="338.50" x2="594.25" y2="336.90" stroke="#777" stroke-width="0.8" />
<line x1="600.24" y1="338.50" x2="600.24" y2="336.90" stroke="#777" stroke-width="0.8" />
<line x1="604.88" y1="338.50" x2="604.88" y2="336.90" stroke="#777" stroke-width="0.8" />
<line x1="608.67" y1="338.50" x2="608.67" y2="336.90" stroke="#777" stroke-width="0.8" />
<line x1="611.88" y1="338.50" x2="611.88" y2="336.90" stroke="#777" stroke-width="0.8" />
<line x1="614.66" y1="338.50" x2="614.66" y2="336.90" stroke="#777" stroke-width="0.8" />
<line x1="617.11" y1="338.50" x2="617.11" y2="336.90" stroke="#777" stroke-width="0.8" />
<text x="544.10" y="360.90" font-size="10.9" text-anchor="middle" font-weight="bold" fill="#1a1a1a" >Frequency (Hz)</text>
<text x="0" y="0" font-size="10.9" font-weight="bold" text-anchor="middle" fill="#1a1a1a" transform="translate(443.10,263.70) rotate(-90)">Intensity (dB)</text>
<text x="554.00" y="224.60" font-size="10.8" text-anchor="start" font-weight="normal" fill="#1a1a1a" >-3dB=3100 Hz</text>
<line x1="594.70" y1="231.00" x2="594.70" y2="338.50" stroke="#2f2fa8" stroke-width="1.3" stroke-dasharray="1.3,1.1"/>
<line x1="572.00" y1="270.90" x2="626.50" y2="270.90" stroke="#2f2fa8" stroke-width="1.3" stroke-dasharray="1.3,1.1"/>
<rect x="482.5" y="258.6" width="89.20000000000005" height="60.299999999999955" fill="#fff"/>
<rect x="485.5" y="258.6" width="2.0" height="60.299999999999955" fill="#6aa6f2"/>
<rect x="531.3" y="258.6" width="12.8" height="60.299999999999955" fill="#7aaef4"/>
<line x1="482.50" y1="258.60" x2="571.70" y2="258.60" stroke="#9a9a9a" stroke-width="0.8" />
<line x1="571.70" y1="258.60" x2="571.70" y2="318.90" stroke="#9a9a9a" stroke-width="0.8" />
<line x1="482.50" y1="318.90" x2="571.70" y2="318.90" stroke="#555" stroke-width="1" />
<line x1="482.50" y1="258.60" x2="482.50" y2="318.90" stroke="#555" stroke-width="1" />
<line x1="504.80" y1="318.90" x2="504.80" y2="317.30" stroke="#777" stroke-width="0.8" />
<line x1="527.10" y1="318.90" x2="527.10" y2="317.30" stroke="#777" stroke-width="0.8" />
<line x1="549.40" y1="318.90" x2="549.40" y2="317.30" stroke="#777" stroke-width="0.8" />
<text x="481.00" y="266.50" font-size="10" text-anchor="end" font-weight="normal" fill="#1a1a1a" >1</text>
<text x="481.00" y="317.50" font-size="10" text-anchor="end" font-weight="normal" fill="#1a1a1a" >0</text>
<text x="482.00" y="328.20" font-size="10" text-anchor="middle" font-weight="normal" fill="#1a1a1a" >0</text>
<text x="571.70" y="328.20" font-size="10" text-anchor="middle" font-weight="normal" fill="#1a1a1a" >1</text>
<text x="522.70" y="331.80" font-size="8.5" text-anchor="middle" font-weight="bold" fill="#1a1a1a" >Time (ms)</text>
<line x1="482.50" y1="313.50" x2="485.60" y2="313.50" stroke="#111" stroke-width="1.8" />
<path d="M485.60,313.50 C485.72,311.25 486.07,305.25 486.30,300.00 C486.53,294.75 486.75,286.67 487.00,282.00 C487.25,277.33 487.53,274.17 487.80,272.00 C488.07,269.83 488.18,269.87 488.60,269.00 C489.02,268.13 490.02,267.17 490.30,266.80" stroke="#1f48b0" stroke-width="0.95" fill="none" stroke-linejoin="round" />
<circle cx="490.5" cy="266.8" r="0.9" fill="#111"/>
<line x1="499.80" y1="266.60" x2="530.80" y2="266.60" stroke="#111" stroke-width="1.3" />
<path d="M543.00,309.20 C543.17,309.33 543.17,309.53 544.00,310.00 C544.83,310.47 546.00,311.57 548.00,312.00 C550.00,312.43 552.08,312.50 556.00,312.60 C559.92,312.70 568.92,312.60 571.50,312.60" stroke="#111" stroke-width="1.3" fill="none" stroke-linejoin="round" />
<path d="M530.80,266.60 C531.08,267.17 531.80,267.77 532.50,270.00 C533.20,272.23 534.08,275.83 535.00,280.00 C535.92,284.17 537.00,290.83 538.00,295.00 C539.00,299.17 540.00,302.50 541.00,305.00 C542.00,307.50 543.50,309.17 544.00,310.00" stroke="#1f48b0" stroke-width="0.95" fill="none" stroke-linejoin="round" />
<text x="500.50" y="284.00" font-size="9.6" text-anchor="start" font-weight="normal" fill="#1a1a1a" >150 μs</text>
<line x1="506.80" y1="288.60" x2="528.50" y2="288.60" stroke="#222" stroke-width="0.8" />
<path d="M525.3,285.8 L529.2,288.6 L525.3,291.4" stroke="#222" stroke-width="0.8" fill="none"/>
<text x="490.70" y="307.20" font-size="9.6" text-anchor="start" font-weight="normal" fill="#1a1a1a" >25 μs</text>
<line x1="491.00" y1="312.10" x2="505.10" y2="312.10" stroke="#222" stroke-width="0.8" />
<path d="M494.2,309.3 L490.4,312.1 L494.2,314.9" stroke="#222" stroke-width="0.8" fill="none"/>
<path d="M474.60,220.60 L508.40,220.60 L522.90,229.60 L556.00,241.20 L570.90,255.50 L579.40,260.60 L585.50,265.00 L594.00,270.10 L604.80,278.60 L612.20,297.10 L618.70,329.60" stroke="#222" stroke-width="0.8" fill="none" />
<circle cx="474.60" cy="220.60" r="2.8" fill="url(#ball)"/>
<circle cx="508.40" cy="220.60" r="2.8" fill="url(#ball)"/>
<circle cx="522.90" cy="229.60" r="2.8" fill="url(#ball)"/>
<circle cx="556.00" cy="241.20" r="2.8" fill="url(#ball)"/>
<circle cx="570.90" cy="255.50" r="2.8" fill="url(#ball)"/>
<circle cx="579.40" cy="260.60" r="2.8" fill="url(#ball)"/>
<circle cx="585.50" cy="265.00" r="2.8" fill="url(#ball)"/>
<circle cx="594.00" cy="270.10" r="2.8" fill="url(#ball)"/>
<circle cx="604.80" cy="278.60" r="2.8" fill="url(#ball)"/>
<circle cx="612.20" cy="297.10" r="2.8" fill="url(#ball)"/>
<circle cx="618.70" cy="329.60" r="2.8" fill="url(#ball)"/>
</svg>
</body></html>
